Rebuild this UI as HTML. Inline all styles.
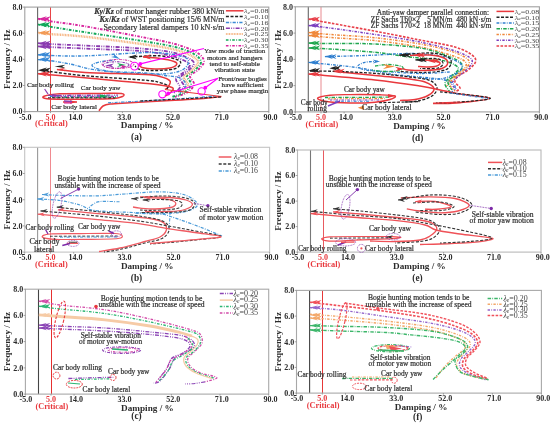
<!DOCTYPE html>
<html><head><meta charset="utf-8"><style>
html,body{margin:0;padding:0;background:#fff;}
svg{display:block;font-family:"Liberation Serif", "Times New Roman", serif;filter:blur(0.3px);}
</style></head><body>
<svg width="550" height="425" viewBox="0 0 550 425">
<rect width="550" height="425" fill="#fff"/>
<line x1="37.6" y1="7.1" x2="37.6" y2="111.6" stroke="#666" stroke-width="1.1"/>
<line x1="50.5" y1="7.1" x2="50.5" y2="111.6" stroke="#e84545" stroke-width="1"/>
<rect x="24.8" y="7.1" width="244.0" height="104.5" fill="none" stroke="#a0a0a0" stroke-width="1.1"/>
<line x1="24.8" y1="111.6" x2="24.8" y2="113.1" stroke="#8c8c8c" stroke-width="0.8"/>
<text x="25.3" y="119.7" text-anchor="middle" font-weight="bold" font-size="8" fill="#2b2b2b">-5.0</text>
<line x1="50.5" y1="111.6" x2="50.5" y2="113.1" stroke="#8c8c8c" stroke-width="0.8"/>
<text x="50.4" y="119.7" text-anchor="middle" font-weight="bold" font-size="8" fill="#e8383d">5.0</text>
<line x1="73.6" y1="111.6" x2="73.6" y2="113.1" stroke="#8c8c8c" stroke-width="0.8"/>
<text x="75.4" y="119.7" text-anchor="middle" font-weight="bold" font-size="8" fill="#2b2b2b">14.0</text>
<line x1="122.4" y1="111.6" x2="122.4" y2="113.1" stroke="#8c8c8c" stroke-width="0.8"/>
<text x="124.2" y="119.7" text-anchor="middle" font-weight="bold" font-size="8" fill="#2b2b2b">33.0</text>
<line x1="171.2" y1="111.6" x2="171.2" y2="113.1" stroke="#8c8c8c" stroke-width="0.8"/>
<text x="173.0" y="119.7" text-anchor="middle" font-weight="bold" font-size="8" fill="#2b2b2b">52.0</text>
<line x1="220.0" y1="111.6" x2="220.0" y2="113.1" stroke="#8c8c8c" stroke-width="0.8"/>
<text x="221.8" y="119.7" text-anchor="middle" font-weight="bold" font-size="8" fill="#2b2b2b">71.0</text>
<line x1="268.8" y1="111.6" x2="268.8" y2="113.1" stroke="#8c8c8c" stroke-width="0.8"/>
<text x="270.6" y="119.7" text-anchor="middle" font-weight="bold" font-size="8" fill="#2b2b2b">90.0</text>
<text x="51.3" y="126.4" text-anchor="middle" font-weight="bold" font-size="8.3" fill="#e8383d">(Critical)</text>
<line x1="23.0" y1="111.6" x2="24.8" y2="111.6" stroke="#8c8c8c" stroke-width="0.8"/>
<text x="22.6" y="114.4" text-anchor="end" font-weight="bold" font-size="8" fill="#2b2b2b">0.0</text>
<line x1="23.0" y1="85.5" x2="24.8" y2="85.5" stroke="#8c8c8c" stroke-width="0.8"/>
<text x="22.6" y="88.3" text-anchor="end" font-weight="bold" font-size="8" fill="#2b2b2b">2.0</text>
<line x1="23.0" y1="59.3" x2="24.8" y2="59.3" stroke="#8c8c8c" stroke-width="0.8"/>
<text x="22.6" y="62.1" text-anchor="end" font-weight="bold" font-size="8" fill="#2b2b2b">4.0</text>
<line x1="23.0" y1="33.2" x2="24.8" y2="33.2" stroke="#8c8c8c" stroke-width="0.8"/>
<text x="22.6" y="36.0" text-anchor="end" font-weight="bold" font-size="8" fill="#2b2b2b">6.0</text>
<line x1="23.0" y1="7.1" x2="24.8" y2="7.1" stroke="#8c8c8c" stroke-width="0.8"/>
<text x="22.6" y="9.9" text-anchor="end" font-weight="bold" font-size="8" fill="#2b2b2b">8.0</text>
<text x="147.1" y="128.2" text-anchor="middle" font-weight="bold" font-size="9.2" fill="#2b2b2b">Damping / %</text>
<text transform="translate(9.8,59.3) rotate(-90)" text-anchor="middle" font-weight="bold" font-size="9.1" fill="#2b2b2b">Frequency / Hz</text>
<text x="136.5" y="140.0" text-anchor="middle" font-size="9.3" font-weight="bold" fill="#2b2b2b">(a)</text>
<line x1="37.6" y1="147.3" x2="37.6" y2="252.1" stroke="#999" stroke-width="1.1"/>
<line x1="50.5" y1="147.3" x2="50.5" y2="252.1" stroke="#f08a90" stroke-width="1"/>
<rect x="24.7" y="147.3" width="244.9" height="104.8" fill="none" stroke="#c4c4c4" stroke-width="1.1"/>
<line x1="24.7" y1="252.1" x2="24.7" y2="253.6" stroke="#8c8c8c" stroke-width="0.8"/>
<text x="25.2" y="260.2" text-anchor="middle" font-weight="bold" font-size="8" fill="#2b2b2b">-5.0</text>
<line x1="50.5" y1="252.1" x2="50.5" y2="253.6" stroke="#8c8c8c" stroke-width="0.8"/>
<text x="50.4" y="260.2" text-anchor="middle" font-weight="bold" font-size="8" fill="#e8383d">5.0</text>
<line x1="73.7" y1="252.1" x2="73.7" y2="253.6" stroke="#8c8c8c" stroke-width="0.8"/>
<text x="75.5" y="260.2" text-anchor="middle" font-weight="bold" font-size="8" fill="#2b2b2b">14.0</text>
<line x1="122.7" y1="252.1" x2="122.7" y2="253.6" stroke="#8c8c8c" stroke-width="0.8"/>
<text x="124.5" y="260.2" text-anchor="middle" font-weight="bold" font-size="8" fill="#2b2b2b">33.0</text>
<line x1="171.6" y1="252.1" x2="171.6" y2="253.6" stroke="#8c8c8c" stroke-width="0.8"/>
<text x="173.4" y="260.2" text-anchor="middle" font-weight="bold" font-size="8" fill="#2b2b2b">52.0</text>
<line x1="220.6" y1="252.1" x2="220.6" y2="253.6" stroke="#8c8c8c" stroke-width="0.8"/>
<text x="222.4" y="260.2" text-anchor="middle" font-weight="bold" font-size="8" fill="#2b2b2b">71.0</text>
<line x1="269.6" y1="252.1" x2="269.6" y2="253.6" stroke="#8c8c8c" stroke-width="0.8"/>
<text x="271.4" y="260.2" text-anchor="middle" font-weight="bold" font-size="8" fill="#2b2b2b">90.0</text>
<text x="51.3" y="266.9" text-anchor="middle" font-weight="bold" font-size="8.3" fill="#e8383d">(Critical)</text>
<line x1="22.9" y1="252.1" x2="24.7" y2="252.1" stroke="#8c8c8c" stroke-width="0.8"/>
<text x="22.5" y="254.9" text-anchor="end" font-weight="bold" font-size="8" fill="#2b2b2b">0.0</text>
<line x1="22.9" y1="225.9" x2="24.7" y2="225.9" stroke="#8c8c8c" stroke-width="0.8"/>
<text x="22.5" y="228.7" text-anchor="end" font-weight="bold" font-size="8" fill="#2b2b2b">2.0</text>
<line x1="22.9" y1="199.7" x2="24.7" y2="199.7" stroke="#8c8c8c" stroke-width="0.8"/>
<text x="22.5" y="202.5" text-anchor="end" font-weight="bold" font-size="8" fill="#2b2b2b">4.0</text>
<line x1="22.9" y1="173.5" x2="24.7" y2="173.5" stroke="#8c8c8c" stroke-width="0.8"/>
<text x="22.5" y="176.3" text-anchor="end" font-weight="bold" font-size="8" fill="#2b2b2b">6.0</text>
<line x1="22.9" y1="147.3" x2="24.7" y2="147.3" stroke="#8c8c8c" stroke-width="0.8"/>
<text x="22.5" y="150.1" text-anchor="end" font-weight="bold" font-size="8" fill="#2b2b2b">8.0</text>
<text x="147.2" y="268.7" text-anchor="middle" font-weight="bold" font-size="9.2" fill="#2b2b2b">Damping / %</text>
<text transform="translate(9.8,199.7) rotate(-90)" text-anchor="middle" font-weight="bold" font-size="9.1" fill="#2b2b2b">Frequency / Hz</text>
<text x="136.5" y="280.6" text-anchor="middle" font-size="9.3" font-weight="bold" fill="#2b2b2b">(b)</text>
<line x1="38.5" y1="289.2" x2="38.5" y2="394.1" stroke="#444" stroke-width="1.1"/>
<line x1="51.5" y1="289.2" x2="51.5" y2="394.1" stroke="#e63030" stroke-width="1"/>
<rect x="25.4" y="289.2" width="243.3" height="104.9" fill="none" stroke="#a8a8a8" stroke-width="1.1"/>
<line x1="25.4" y1="394.1" x2="25.4" y2="395.6" stroke="#8c8c8c" stroke-width="0.8"/>
<text x="25.9" y="402.2" text-anchor="middle" font-weight="bold" font-size="8" fill="#2b2b2b">-5.0</text>
<line x1="51.0" y1="394.1" x2="51.0" y2="395.6" stroke="#8c8c8c" stroke-width="0.8"/>
<text x="50.9" y="402.2" text-anchor="middle" font-weight="bold" font-size="8" fill="#e8383d">5.0</text>
<line x1="74.1" y1="394.1" x2="74.1" y2="395.6" stroke="#8c8c8c" stroke-width="0.8"/>
<text x="75.9" y="402.2" text-anchor="middle" font-weight="bold" font-size="8" fill="#2b2b2b">14.0</text>
<line x1="122.7" y1="394.1" x2="122.7" y2="395.6" stroke="#8c8c8c" stroke-width="0.8"/>
<text x="124.5" y="402.2" text-anchor="middle" font-weight="bold" font-size="8" fill="#2b2b2b">33.0</text>
<line x1="171.4" y1="394.1" x2="171.4" y2="395.6" stroke="#8c8c8c" stroke-width="0.8"/>
<text x="173.2" y="402.2" text-anchor="middle" font-weight="bold" font-size="8" fill="#2b2b2b">52.0</text>
<line x1="220.0" y1="394.1" x2="220.0" y2="395.6" stroke="#8c8c8c" stroke-width="0.8"/>
<text x="221.8" y="402.2" text-anchor="middle" font-weight="bold" font-size="8" fill="#2b2b2b">71.0</text>
<line x1="268.7" y1="394.1" x2="268.7" y2="395.6" stroke="#8c8c8c" stroke-width="0.8"/>
<text x="270.5" y="402.2" text-anchor="middle" font-weight="bold" font-size="8" fill="#2b2b2b">90.0</text>
<text x="51.8" y="408.9" text-anchor="middle" font-weight="bold" font-size="8.3" fill="#e8383d">(Critical)</text>
<line x1="23.6" y1="394.1" x2="25.4" y2="394.1" stroke="#8c8c8c" stroke-width="0.8"/>
<text x="23.2" y="396.9" text-anchor="end" font-weight="bold" font-size="8" fill="#2b2b2b">0.0</text>
<line x1="23.6" y1="367.9" x2="25.4" y2="367.9" stroke="#8c8c8c" stroke-width="0.8"/>
<text x="23.2" y="370.7" text-anchor="end" font-weight="bold" font-size="8" fill="#2b2b2b">2.0</text>
<line x1="23.6" y1="341.6" x2="25.4" y2="341.6" stroke="#8c8c8c" stroke-width="0.8"/>
<text x="23.2" y="344.4" text-anchor="end" font-weight="bold" font-size="8" fill="#2b2b2b">4.0</text>
<line x1="23.6" y1="315.4" x2="25.4" y2="315.4" stroke="#8c8c8c" stroke-width="0.8"/>
<text x="23.2" y="318.2" text-anchor="end" font-weight="bold" font-size="8" fill="#2b2b2b">6.0</text>
<line x1="23.6" y1="289.2" x2="25.4" y2="289.2" stroke="#8c8c8c" stroke-width="0.8"/>
<text x="23.2" y="292.0" text-anchor="end" font-weight="bold" font-size="8" fill="#2b2b2b">8.0</text>
<text x="147.4" y="410.7" text-anchor="middle" font-weight="bold" font-size="9.2" fill="#2b2b2b">Damping / %</text>
<text transform="translate(9.8,341.6) rotate(-90)" text-anchor="middle" font-weight="bold" font-size="9.1" fill="#2b2b2b">Frequency / Hz</text>
<text x="136.5" y="419.3" text-anchor="middle" font-size="9.3" font-weight="bold" fill="#2b2b2b">(c)</text>
<line x1="308.3" y1="6.8" x2="308.3" y2="111.9" stroke="#666" stroke-width="1.1"/>
<line x1="321.0" y1="6.8" x2="321.0" y2="111.9" stroke="#e88a90" stroke-width="1"/>
<rect x="295.3" y="6.8" width="244.1" height="105.1" fill="none" stroke="#a0a0a0" stroke-width="1.1"/>
<line x1="295.3" y1="111.9" x2="295.3" y2="113.4" stroke="#8c8c8c" stroke-width="0.8"/>
<text x="295.8" y="120.0" text-anchor="middle" font-weight="bold" font-size="8" fill="#2b2b2b">-5.0</text>
<line x1="321.0" y1="111.9" x2="321.0" y2="113.4" stroke="#8c8c8c" stroke-width="0.8"/>
<text x="320.9" y="120.0" text-anchor="middle" font-weight="bold" font-size="8" fill="#e8383d">5.0</text>
<line x1="344.1" y1="111.9" x2="344.1" y2="113.4" stroke="#8c8c8c" stroke-width="0.8"/>
<text x="345.9" y="120.0" text-anchor="middle" font-weight="bold" font-size="8" fill="#2b2b2b">14.0</text>
<line x1="392.9" y1="111.9" x2="392.9" y2="113.4" stroke="#8c8c8c" stroke-width="0.8"/>
<text x="394.7" y="120.0" text-anchor="middle" font-weight="bold" font-size="8" fill="#2b2b2b">33.0</text>
<line x1="441.8" y1="111.9" x2="441.8" y2="113.4" stroke="#8c8c8c" stroke-width="0.8"/>
<text x="443.6" y="120.0" text-anchor="middle" font-weight="bold" font-size="8" fill="#2b2b2b">52.0</text>
<line x1="490.6" y1="111.9" x2="490.6" y2="113.4" stroke="#8c8c8c" stroke-width="0.8"/>
<text x="492.4" y="120.0" text-anchor="middle" font-weight="bold" font-size="8" fill="#2b2b2b">71.0</text>
<line x1="539.4" y1="111.9" x2="539.4" y2="113.4" stroke="#8c8c8c" stroke-width="0.8"/>
<text x="541.2" y="120.0" text-anchor="middle" font-weight="bold" font-size="8" fill="#2b2b2b">90.0</text>
<text x="321.8" y="126.7" text-anchor="middle" font-weight="bold" font-size="8.3" fill="#e8383d">(Critical)</text>
<line x1="293.5" y1="111.9" x2="295.3" y2="111.9" stroke="#8c8c8c" stroke-width="0.8"/>
<text x="293.1" y="114.7" text-anchor="end" font-weight="bold" font-size="8" fill="#2b2b2b">0.0</text>
<line x1="293.5" y1="85.6" x2="295.3" y2="85.6" stroke="#8c8c8c" stroke-width="0.8"/>
<text x="293.1" y="88.4" text-anchor="end" font-weight="bold" font-size="8" fill="#2b2b2b">2.0</text>
<line x1="293.5" y1="59.4" x2="295.3" y2="59.4" stroke="#8c8c8c" stroke-width="0.8"/>
<text x="293.1" y="62.1" text-anchor="end" font-weight="bold" font-size="8" fill="#2b2b2b">4.0</text>
<line x1="293.5" y1="33.1" x2="295.3" y2="33.1" stroke="#8c8c8c" stroke-width="0.8"/>
<text x="293.1" y="35.9" text-anchor="end" font-weight="bold" font-size="8" fill="#2b2b2b">6.0</text>
<line x1="293.5" y1="6.8" x2="295.3" y2="6.8" stroke="#8c8c8c" stroke-width="0.8"/>
<text x="293.1" y="9.6" text-anchor="end" font-weight="bold" font-size="8" fill="#2b2b2b">8.0</text>
<text x="419.5" y="128.5" text-anchor="middle" font-weight="bold" font-size="9.2" fill="#2b2b2b">Damping / %</text>
<text transform="translate(281.2,59.4) rotate(-90)" text-anchor="middle" font-weight="bold" font-size="9.1" fill="#2b2b2b">Frequency / Hz</text>
<text x="417.7" y="140.7" text-anchor="middle" font-size="9.3" font-weight="bold" fill="#2b2b2b">(d)</text>
<line x1="310.5" y1="150.0" x2="310.5" y2="252.1" stroke="#777" stroke-width="1.1"/>
<line x1="323.5" y1="150.0" x2="323.5" y2="252.1" stroke="#e85a60" stroke-width="1"/>
<rect x="297.5" y="150.0" width="243.5" height="102.1" fill="none" stroke="#b8b8b8" stroke-width="1.1"/>
<line x1="297.5" y1="252.1" x2="297.5" y2="253.6" stroke="#8c8c8c" stroke-width="0.8"/>
<text x="298.0" y="260.2" text-anchor="middle" font-weight="bold" font-size="8" fill="#2b2b2b">-5.0</text>
<line x1="323.1" y1="252.1" x2="323.1" y2="253.6" stroke="#8c8c8c" stroke-width="0.8"/>
<text x="323.0" y="260.2" text-anchor="middle" font-weight="bold" font-size="8" fill="#e8383d">5.0</text>
<line x1="346.2" y1="252.1" x2="346.2" y2="253.6" stroke="#8c8c8c" stroke-width="0.8"/>
<text x="348.0" y="260.2" text-anchor="middle" font-weight="bold" font-size="8" fill="#2b2b2b">14.0</text>
<line x1="394.9" y1="252.1" x2="394.9" y2="253.6" stroke="#8c8c8c" stroke-width="0.8"/>
<text x="396.7" y="260.2" text-anchor="middle" font-weight="bold" font-size="8" fill="#2b2b2b">33.0</text>
<line x1="443.6" y1="252.1" x2="443.6" y2="253.6" stroke="#8c8c8c" stroke-width="0.8"/>
<text x="445.4" y="260.2" text-anchor="middle" font-weight="bold" font-size="8" fill="#2b2b2b">52.0</text>
<line x1="492.3" y1="252.1" x2="492.3" y2="253.6" stroke="#8c8c8c" stroke-width="0.8"/>
<text x="494.1" y="260.2" text-anchor="middle" font-weight="bold" font-size="8" fill="#2b2b2b">71.0</text>
<line x1="541.0" y1="252.1" x2="541.0" y2="253.6" stroke="#8c8c8c" stroke-width="0.8"/>
<text x="542.8" y="260.2" text-anchor="middle" font-weight="bold" font-size="8" fill="#2b2b2b">90.0</text>
<text x="323.9" y="266.9" text-anchor="middle" font-weight="bold" font-size="8.3" fill="#e8383d">(Critical)</text>
<line x1="295.7" y1="252.1" x2="297.5" y2="252.1" stroke="#8c8c8c" stroke-width="0.8"/>
<text x="295.3" y="254.9" text-anchor="end" font-weight="bold" font-size="8" fill="#2b2b2b">0.0</text>
<line x1="295.7" y1="226.6" x2="297.5" y2="226.6" stroke="#8c8c8c" stroke-width="0.8"/>
<text x="295.3" y="229.4" text-anchor="end" font-weight="bold" font-size="8" fill="#2b2b2b">2.0</text>
<line x1="295.7" y1="201.1" x2="297.5" y2="201.1" stroke="#8c8c8c" stroke-width="0.8"/>
<text x="295.3" y="203.9" text-anchor="end" font-weight="bold" font-size="8" fill="#2b2b2b">4.0</text>
<line x1="295.7" y1="175.5" x2="297.5" y2="175.5" stroke="#8c8c8c" stroke-width="0.8"/>
<text x="295.3" y="178.3" text-anchor="end" font-weight="bold" font-size="8" fill="#2b2b2b">6.0</text>
<line x1="295.7" y1="150.0" x2="297.5" y2="150.0" stroke="#8c8c8c" stroke-width="0.8"/>
<text x="295.3" y="152.8" text-anchor="end" font-weight="bold" font-size="8" fill="#2b2b2b">8.0</text>
<text x="419.4" y="268.7" text-anchor="middle" font-weight="bold" font-size="9.2" fill="#2b2b2b">Damping / %</text>
<text transform="translate(281.2,201.1) rotate(-90)" text-anchor="middle" font-weight="bold" font-size="9.1" fill="#2b2b2b">Frequency / Hz</text>
<text x="417.5" y="280.5" text-anchor="middle" font-size="9.3" font-weight="bold" fill="#2b2b2b">(e)</text>
<line x1="309.6" y1="290.4" x2="309.6" y2="393.1" stroke="#444" stroke-width="1.1"/>
<line x1="322.5" y1="290.4" x2="322.5" y2="393.1" stroke="#e63838" stroke-width="1"/>
<rect x="296.5" y="290.4" width="244.9" height="102.7" fill="none" stroke="#a8a8a8" stroke-width="1.1"/>
<line x1="296.5" y1="393.1" x2="296.5" y2="394.6" stroke="#8c8c8c" stroke-width="0.8"/>
<text x="297.0" y="401.2" text-anchor="middle" font-weight="bold" font-size="8" fill="#2b2b2b">-5.0</text>
<line x1="322.3" y1="393.1" x2="322.3" y2="394.6" stroke="#8c8c8c" stroke-width="0.8"/>
<text x="322.2" y="401.2" text-anchor="middle" font-weight="bold" font-size="8" fill="#e8383d">5.0</text>
<line x1="345.5" y1="393.1" x2="345.5" y2="394.6" stroke="#8c8c8c" stroke-width="0.8"/>
<text x="347.3" y="401.2" text-anchor="middle" font-weight="bold" font-size="8" fill="#2b2b2b">14.0</text>
<line x1="394.5" y1="393.1" x2="394.5" y2="394.6" stroke="#8c8c8c" stroke-width="0.8"/>
<text x="396.3" y="401.2" text-anchor="middle" font-weight="bold" font-size="8" fill="#2b2b2b">33.0</text>
<line x1="443.4" y1="393.1" x2="443.4" y2="394.6" stroke="#8c8c8c" stroke-width="0.8"/>
<text x="445.2" y="401.2" text-anchor="middle" font-weight="bold" font-size="8" fill="#2b2b2b">52.0</text>
<line x1="492.4" y1="393.1" x2="492.4" y2="394.6" stroke="#8c8c8c" stroke-width="0.8"/>
<text x="494.2" y="401.2" text-anchor="middle" font-weight="bold" font-size="8" fill="#2b2b2b">71.0</text>
<line x1="541.4" y1="393.1" x2="541.4" y2="394.6" stroke="#8c8c8c" stroke-width="0.8"/>
<text x="543.2" y="401.2" text-anchor="middle" font-weight="bold" font-size="8" fill="#2b2b2b">90.0</text>
<text x="323.1" y="407.9" text-anchor="middle" font-weight="bold" font-size="8.3" fill="#e8383d">(Critical)</text>
<line x1="294.7" y1="393.1" x2="296.5" y2="393.1" stroke="#8c8c8c" stroke-width="0.8"/>
<text x="294.3" y="395.9" text-anchor="end" font-weight="bold" font-size="8" fill="#2b2b2b">0.0</text>
<line x1="294.7" y1="367.4" x2="296.5" y2="367.4" stroke="#8c8c8c" stroke-width="0.8"/>
<text x="294.3" y="370.2" text-anchor="end" font-weight="bold" font-size="8" fill="#2b2b2b">2.0</text>
<line x1="294.7" y1="341.8" x2="296.5" y2="341.8" stroke="#8c8c8c" stroke-width="0.8"/>
<text x="294.3" y="344.6" text-anchor="end" font-weight="bold" font-size="8" fill="#2b2b2b">4.0</text>
<line x1="294.7" y1="316.1" x2="296.5" y2="316.1" stroke="#8c8c8c" stroke-width="0.8"/>
<text x="294.3" y="318.9" text-anchor="end" font-weight="bold" font-size="8" fill="#2b2b2b">6.0</text>
<line x1="294.7" y1="290.4" x2="296.5" y2="290.4" stroke="#8c8c8c" stroke-width="0.8"/>
<text x="294.3" y="293.2" text-anchor="end" font-weight="bold" font-size="8" fill="#2b2b2b">8.0</text>
<text x="421.1" y="409.7" text-anchor="middle" font-weight="bold" font-size="9.2" fill="#2b2b2b">Damping / %</text>
<text transform="translate(281.2,341.8) rotate(-90)" text-anchor="middle" font-weight="bold" font-size="9.1" fill="#2b2b2b">Frequency / Hz</text>
<text x="417.7" y="419.8" text-anchor="middle" font-size="9.3" font-weight="bold" fill="#2b2b2b">(f)</text>
<path d="M38.0,18.6 C39.8,19.0 41.2,19.7 49.0,21.0 C56.8,22.3 69.8,23.7 85.0,26.3 C100.2,28.9 125.0,33.8 140.0,36.7 C155.0,39.7 165.7,41.5 175.0,44.0 C184.3,46.5 191.2,49.2 196.0,52.0 C200.8,54.8 203.7,58.0 204.0,61.0 C204.3,64.0 200.3,67.5 198.0,70.0 C195.7,72.5 190.7,73.7 190.0,76.0 C189.3,78.3 194.3,81.3 194.0,84.0 C193.7,86.7 191.2,89.8 188.0,92.0 C184.8,94.2 177.2,96.2 175.0,97.0" fill="none" stroke="#d8259e" stroke-width="1.9" stroke-dasharray="2.6 1.4 0.9 1.4"/>
<path d="M38.0,24.4 C39.8,24.8 41.2,25.2 49.0,26.5 C56.8,27.8 69.8,29.9 85.0,32.2 C100.2,34.6 125.0,38.1 140.0,40.6 C155.0,43.1 166.0,44.8 175.0,47.0 C184.0,49.2 189.7,51.5 194.0,54.0 C198.3,56.5 200.8,59.3 201.0,62.0 C201.2,64.7 197.3,67.7 195.0,70.0 C192.7,72.3 187.7,73.7 187.0,76.0 C186.3,78.3 191.3,81.3 191.0,84.0 C190.7,86.7 188.2,89.8 185.0,92.0 C181.8,94.2 174.2,96.2 172.0,97.0" fill="none" stroke="#13a85a" stroke-width="1.9" stroke-dasharray="2.6 1.4 0.9 1.4"/>
<path d="M38.0,32.8 C39.8,33.0 41.2,33.4 49.0,34.0 C56.8,34.6 69.8,35.1 85.0,36.7 C100.2,38.3 125.5,41.8 140.0,43.8 C154.5,45.8 163.7,47.1 172.0,49.0 C180.3,50.9 185.7,52.8 190.0,55.0 C194.3,57.2 197.7,59.5 198.0,62.0 C198.3,64.5 194.3,67.5 192.0,70.0 C189.7,72.5 184.7,74.5 184.0,77.0 C183.3,79.5 188.3,82.5 188.0,85.0 C187.7,87.5 183.0,90.8 182.0,92.0" fill="none" stroke="#f5b07a" stroke-width="2.4" stroke-dasharray="0.9 0.7"/>
<path d="M38.0,43.2 C39.8,43.3 41.2,43.6 49.0,44.0 C56.8,44.4 69.8,44.9 85.0,45.6 C100.2,46.3 125.8,47.3 140.0,48.4 C154.2,49.5 162.3,50.6 170.0,52.0 C177.7,53.4 182.0,55.2 186.0,57.0 C190.0,58.8 193.7,60.7 194.0,63.0 C194.3,65.3 190.3,68.5 188.0,71.0 C185.7,73.5 180.7,75.5 180.0,78.0 C179.3,80.5 184.3,83.7 184.0,86.0 C183.7,88.3 179.0,91.0 178.0,92.0" fill="none" stroke="#8a3ab0" stroke-width="1.8" stroke-dasharray="4 1.3 0.9 1.3 0.9 1.3"/>
<path d="M38.0,46.4 C39.8,46.5 41.2,46.6 49.0,47.0 C56.8,47.4 69.8,47.9 85.0,48.6 C100.2,49.3 126.2,49.9 140.0,51.0 C153.8,52.1 160.8,53.5 168.0,55.0 C175.2,56.5 179.3,58.3 183.0,60.0 C186.7,61.7 189.8,63.0 190.0,65.0 C190.2,67.0 186.3,69.7 184.0,72.0 C181.7,74.3 176.7,76.5 176.0,79.0 C175.3,81.5 180.3,84.7 180.0,87.0 C179.7,89.3 175.0,92.0 174.0,93.0" fill="none" stroke="#8a3ab0" stroke-width="1.8" stroke-dasharray="4 1.3 0.9 1.3 0.9 1.3"/>
<path d="M38.0,54.8 C39.8,54.9 41.2,55.3 49.0,55.5 C56.8,55.7 69.0,56.4 85.0,55.9 C101.0,55.4 130.8,52.9 145.0,52.6 C159.2,52.3 163.2,53.1 170.0,54.0 C176.8,54.9 183.0,56.3 186.0,58.0 C189.0,59.7 189.0,61.8 188.0,64.0 C187.0,66.2 184.7,69.3 180.0,71.0 C175.3,72.7 170.0,73.8 160.0,74.0 C150.0,74.2 130.0,73.2 120.0,72.5 C110.0,71.8 104.7,70.7 100.0,69.5 C95.3,68.3 92.0,66.5 92.0,65.2 C92.0,63.9 96.2,62.8 100.0,61.9 C103.8,61.0 112.5,60.3 115.0,60.0" fill="none" stroke="#3a8ad6" stroke-width="1.4" stroke-dasharray="3.2 1.3 0.9 1.3"/>
<path d="M38.0,59.6 C39.8,59.8 43.7,59.8 49.0,60.5 C54.3,61.2 63.2,62.6 70.0,64.0 C76.8,65.4 83.3,67.8 90.0,69.0 C96.7,70.2 100.8,70.8 110.0,71.5 C119.2,72.2 135.8,72.3 145.0,73.0 C154.2,73.7 159.2,74.7 165.0,75.5 C170.8,76.3 176.5,76.4 180.0,78.0 C183.5,79.6 186.0,82.5 186.0,85.0 C186.0,87.5 181.0,91.7 180.0,93.0" fill="none" stroke="#3a8ad6" stroke-width="1.4" stroke-dasharray="3.2 1.3 0.9 1.3"/>
<path d="M143.0,57.0 C145.8,57.2 154.8,57.8 160.0,58.5 C165.2,59.2 171.2,60.5 174.0,61.5 C176.8,62.5 177.3,63.5 176.6,64.6 C175.9,65.7 173.6,67.3 170.0,68.0 C166.4,68.7 159.7,69.1 155.0,69.0 C150.3,68.9 144.7,68.3 142.0,67.5 C139.3,66.7 139.3,64.6 138.8,64.0" fill="none" stroke="#e8383d" stroke-width="1.5"/>
<path d="M130.0,57.0 C135.0,56.8 152.0,55.3 160.0,55.8 C168.0,56.3 174.6,58.6 178.0,60.0 C181.4,61.4 181.0,62.5 180.3,64.0 C179.6,65.5 178.2,67.9 174.0,69.0 C169.8,70.1 160.7,70.4 155.0,70.5 C149.3,70.6 143.3,70.2 140.0,69.5 C136.7,68.8 135.8,66.6 135.0,66.0" fill="none" stroke="#222" stroke-width="1.4" stroke-dasharray="3 1.6"/>
<path d="M57.0,69.5 C61.7,70.0 70.3,71.7 85.0,72.5 C99.7,73.3 132.5,73.8 145.0,74.5 C157.5,75.2 155.8,75.4 160.0,76.5 C164.2,77.6 168.7,79.2 170.0,81.0 C171.3,82.8 168.8,85.6 168.0,87.0 C167.2,88.4 165.5,89.1 165.0,89.5" fill="none" stroke="#e8383d" stroke-width="1.5"/>
<path d="M165.0,89.5 C174.4,90.7 211.9,95.3 221.3,96.5" fill="none" stroke="#e8383d" stroke-width="1.2"/>
<path d="M221.3,96.5 C217.8,96.9 208.6,98.1 200.0,98.8 C191.4,99.5 181.7,99.9 170.0,100.6 C158.3,101.2 140.0,102.1 130.0,102.7 C120.0,103.3 114.5,103.5 110.0,104.0 C105.5,104.5 104.8,104.9 103.0,106.0 C101.2,107.1 99.6,110.0 98.9,110.8" fill="none" stroke="#e8383d" stroke-width="1.5"/>
<path d="M108.0,102.8 C115.0,102.4 132.2,101.7 150.0,100.6 C167.8,99.5 204.2,96.9 215.0,96.2" fill="none" stroke="#3a8ad6" stroke-width="1.1" stroke-dasharray="3.2 1.3 0.9 1.3"/>
<path d="M50.0,71.5 C55.8,72.2 69.2,74.3 85.0,75.8 C100.8,77.2 132.5,79.1 145.0,80.2 C157.5,81.3 156.2,81.6 160.0,82.6 C163.8,83.6 167.0,84.8 168.0,86.0 C169.0,87.2 166.3,89.3 166.0,90.0" fill="none" stroke="#222" stroke-width="1.4" stroke-dasharray="3 1.6"/>
<path d="M38.0,73.8 C46.7,74.5 71.3,76.5 90.0,78.2 C108.7,79.9 136.3,82.2 150.0,83.8 C163.7,85.3 168.7,86.0 172.0,87.5 C175.3,89.0 171.2,91.6 170.0,93.0 C168.8,94.4 165.8,95.5 165.0,96.0" fill="none" stroke="#e8383d" stroke-width="1.5"/>
<path d="M140.0,101.0 C153.5,100.3 207.5,97.7 221.0,97.0" fill="none" stroke="#222" stroke-width="1.1" stroke-dasharray="3 1.6"/>
<polygon points="37.8,18.9 46.8,16.3 44.1,18.9 46.8,21.5" fill="#d8259e"/>
<polygon points="41.8,18.9 50.8,16.3 48.1,18.9 50.8,21.5" fill="#d8259e"/>
<polygon points="37.8,24.6 46.8,22.0 44.1,24.6 46.8,27.2" fill="#13a85a"/>
<polygon points="41.8,24.6 50.8,22.0 48.1,24.6 50.8,27.2" fill="#13a85a"/>
<polygon points="37.8,32.8 46.8,30.2 44.1,32.8 46.8,35.4" fill="#f29a55"/>
<polygon points="41.8,32.8 50.8,30.2 48.1,32.8 50.8,35.4" fill="#f29a55"/>
<polygon points="37.8,43.4 46.8,40.8 44.1,43.4 46.8,46.0" fill="#8a3ab0"/>
<polygon points="41.8,43.4 50.8,40.8 48.1,43.4 50.8,46.0" fill="#8a3ab0"/>
<polygon points="37.8,46.6 46.8,44.0 44.1,46.6 46.8,49.2" fill="#8a3ab0"/>
<polygon points="41.8,46.6 50.8,44.0 48.1,46.6 50.8,49.2" fill="#8a3ab0"/>
<polygon points="37.8,54.6 46.8,52.0 44.1,54.6 46.8,57.2" fill="#3a8ad6"/>
<polygon points="41.8,54.6 50.8,52.0 48.1,54.6 50.8,57.2" fill="#3a8ad6"/>
<polygon points="37.8,59.4 46.8,56.8 44.1,59.4 46.8,62.0" fill="#3a8ad6"/>
<polygon points="41.8,59.4 50.8,56.8 48.1,59.4 50.8,62.0" fill="#3a8ad6"/>
<polygon points="37.8,70.2 46.8,67.6 44.1,70.2 46.8,72.8" fill="#222"/>
<polygon points="41.8,70.2 50.8,67.6 48.1,70.2 50.8,72.8" fill="#222"/>
<polygon points="37.8,73.8 46.8,71.2 44.1,73.8 46.8,76.4" fill="#e8383d"/>
<polygon points="41.8,73.8 50.8,71.2 48.1,73.8 50.8,76.4" fill="#e8383d"/>
<polygon points="54.5,66.5 65.5,64.7 62.2,66.5 65.5,68.3" fill="#222"/>
<polygon points="56.2,69.5 65.2,67.7 62.5,69.5 65.2,71.3" fill="#e8383d"/>
<ellipse cx="116" cy="65" rx="13" ry="3.2" fill="none" stroke="#8a3ab0" stroke-width="1.1" stroke-dasharray="2.5 1 0.8 1"/>
<ellipse cx="118" cy="64" rx="16" ry="4.5" fill="none" stroke="#d8259e" stroke-width="1" stroke-dasharray="2.5 1 0.8 1"/>
<polygon points="120.0,59.0 111.0,56.9 114.3,56.3 112.8,53.3" fill="#3a8ad6"/>
<polygon points="105.0,65.5 114.0,63.5 111.3,65.5 114.0,67.5" fill="#8a3ab0"/>
<polygon points="126.0,65.0 117.0,67.0 119.7,65.0 117.0,63.0" fill="#13a85a"/>
<polygon points="127.0,66.5 120.0,68.3 122.1,66.5 120.0,64.7" fill="#d8259e"/>
<polygon points="128.0,57.0 137.0,54.4 134.3,57.0 137.0,59.6" fill="#222"/>
<polygon points="142.0,56.8 151.0,54.2 148.3,56.8 151.0,59.4" fill="#e8383d"/>
<path d="M44.0,96.3 C46.2,95.5 50.7,94.3 60.0,93.8 C69.3,93.3 89.8,93.5 100.0,93.4 C110.2,93.4 117.8,93.0 121.5,93.5 C125.2,94.0 124.4,95.6 122.5,96.5 C120.6,97.4 118.8,98.3 110.0,98.8 C101.2,99.2 80.5,99.2 70.0,99.2 C59.5,99.2 51.3,99.3 47.0,98.8 C42.7,98.3 41.8,97.1 44.0,96.3Z" fill="none" stroke="#e8383d" stroke-width="1.5"/>
<path d="M48.0,95.3 C59.7,95.3 106.3,95.2 118.0,95.2" fill="none" stroke="#8a3ab0" stroke-width="1.3" stroke-dasharray="4 1.3 0.9 1.3 0.9 1.3"/>
<path d="M50.0,96.4 C61.3,96.4 106.7,96.3 118.0,96.3" fill="none" stroke="#3a8ad6" stroke-width="1.2" stroke-dasharray="3.2 1.3 0.9 1.3"/>
<path d="M52.0,97.4 C62.7,97.4 105.3,97.3 116.0,97.3" fill="none" stroke="#13a85a" stroke-width="1.2" stroke-dasharray="2.6 1.4 0.9 1.4"/>
<path d="M54.0,96.8 C64.0,96.8 104.0,96.8 114.0,96.8" fill="none" stroke="#d8259e" stroke-width="1.1" stroke-dasharray="2.6 1.4 0.9 1.4"/>
<path d="M48.0,97.8 C59.2,97.8 103.8,97.9 115.0,97.9" fill="none" stroke="#222" stroke-width="1.0" stroke-dasharray="3 1.6"/>
<polygon points="52,94 60,95.5 52,97" fill="#8a3ab0"/>
<polygon points="100,94.5 110,96 100,97.5" fill="#13a85a"/>
<path d="M63.0,102.0 C65.3,102.0 74.7,102.0 77.0,102.0" fill="none" stroke="#e8383d" stroke-width="1.5"/>
<polygon points="70,100.2 77,102 70,103.8" fill="#e8383d"/>
<path d="M64.0,101.0 C65.3,101.1 70.7,101.4 72.0,101.5" fill="none" stroke="#8a3ab0" stroke-width="1.3"/>
<path d="M64.0,103.0 C65.3,103.0 70.7,103.0 72.0,103.0" fill="none" stroke="#d8259e" stroke-width="1.1"/>
<line x1="204" y1="48.5" x2="140.3" y2="63.9" stroke="#ff00ff" stroke-width="1.1"/>
<circle cx="134.5" cy="66.1" r="3.9" fill="none" stroke="#ff00ff" stroke-width="1.1"/>
<circle cx="140.3" cy="63.9" r="1.9" fill="#ff00ff"/>
<polyline points="168.2,93.5 218,78.3 205.3,87.7" fill="none" stroke="#ff00ff" stroke-width="1.1"/>
<circle cx="162.4" cy="94.3" r="3.6" fill="none" stroke="#ff00ff" stroke-width="1.1"/>
<circle cx="168.2" cy="93.5" r="1.9" fill="#ff00ff"/>
<circle cx="201.6" cy="91.4" r="3.6" fill="none" stroke="#ff00ff" stroke-width="1.1"/>
<circle cx="205.3" cy="87.7" r="1.9" fill="#ff00ff"/>
<line x1="44.6" y1="89" x2="48" y2="94" stroke="#8a3ab0" stroke-width="1.2"/>
<text x="27.0" y="86.7" font-size="7.1" text-anchor="start" fill="#333" stroke="#333" stroke-width="0.22">Car body rolling</text>
<text x="80.7" y="89.6" font-size="7.1" text-anchor="start" fill="#333" stroke="#333" stroke-width="0.22">Car body yaw</text>
<text x="51.2" y="109.0" font-size="7.1" text-anchor="start" fill="#333" stroke="#333" stroke-width="0.22">Car body lateral</text>
<text x="234.7" y="53.4" font-size="7.1" text-anchor="middle" fill="#333" stroke="#333" stroke-width="0.22">Yaw mode of traction</text>
<text x="234.7" y="59.6" font-size="7.1" text-anchor="middle" fill="#333" stroke="#333" stroke-width="0.22">motors and hangers</text>
<text x="234.7" y="65.8" font-size="7.1" text-anchor="middle" fill="#333" stroke="#333" stroke-width="0.22">tend to self-stable</text>
<text x="234.7" y="72.0" font-size="7.1" text-anchor="middle" fill="#333" stroke="#333" stroke-width="0.22">vibration state</text>
<text x="242.5" y="80.6" font-size="7.1" text-anchor="middle" fill="#333" stroke="#333" stroke-width="0.22">Front/rear bogies</text>
<text x="242.5" y="86.7" font-size="7.1" text-anchor="middle" fill="#333" stroke="#333" stroke-width="0.22">have sufficient</text>
<text x="242.5" y="92.8" font-size="7.1" text-anchor="middle" fill="#333" stroke="#333" stroke-width="0.22">yaw phase margin</text>
<text x="224.4" y="13.9" font-size="8" text-anchor="end" fill="#333" stroke="#333" stroke-width="0.22"><tspan font-weight="bold" font-style="italic">Ky</tspan>/<tspan font-weight="bold" font-style="italic">Kz</tspan> of motor hanger rubber 380 kN/m</text>
<text x="224.4" y="22.0" font-size="8" text-anchor="end" fill="#333" stroke="#333" stroke-width="0.22"><tspan font-weight="bold" font-style="italic">Kx</tspan>/<tspan font-weight="bold" font-style="italic">Kz</tspan> of WST positioning 15/6 MN/m</text>
<text x="224.4" y="29.6" font-size="8" text-anchor="end" fill="#333" stroke="#333" stroke-width="0.22">Secondary lateral dampers 10 kN·s/m</text>
<line x1="225.9" y1="10.8" x2="243.5" y2="10.8" stroke="#e8383d" stroke-width="1.5"/>
<text x="244.1" y="13.1" font-size="6.8" fill="#444" textLength="24.4" lengthAdjust="spacingAndGlyphs"><tspan font-style="italic">λ</tspan><tspan font-style="italic" font-size="4.8" dy="0.8">e</tspan><tspan dy="-0.8">=0.08</tspan></text>
<line x1="225.9" y1="16.6" x2="243.5" y2="16.6" stroke="#222" stroke-width="1.5" stroke-dasharray="3 1.6"/>
<text x="244.1" y="18.9" font-size="6.8" fill="#444" textLength="24.4" lengthAdjust="spacingAndGlyphs"><tspan font-style="italic">λ</tspan><tspan font-style="italic" font-size="4.8" dy="0.8">e</tspan><tspan dy="-0.8">=0.10</tspan></text>
<line x1="225.9" y1="22.4" x2="243.5" y2="22.4" stroke="#3a8ad6" stroke-width="1.5" stroke-dasharray="3.2 1.3 0.9 1.3"/>
<text x="244.1" y="24.7" font-size="6.8" fill="#444" textLength="24.4" lengthAdjust="spacingAndGlyphs"><tspan font-style="italic">λ</tspan><tspan font-style="italic" font-size="4.8" dy="0.8">e</tspan><tspan dy="-0.8">=0.16</tspan></text>
<line x1="225.9" y1="28.3" x2="243.5" y2="28.3" stroke="#8a3ab0" stroke-width="1.5" stroke-dasharray="4 1.3 0.9 1.3 0.9 1.3"/>
<text x="244.1" y="30.6" font-size="6.8" fill="#444" textLength="24.4" lengthAdjust="spacingAndGlyphs"><tspan font-style="italic">λ</tspan><tspan font-style="italic" font-size="4.8" dy="0.8">e</tspan><tspan dy="-0.8">=0.20</tspan></text>
<line x1="225.9" y1="34.1" x2="243.5" y2="34.1" stroke="#f29a55" stroke-width="1.5" stroke-dasharray="0.9 0.7"/>
<text x="244.1" y="36.4" font-size="6.8" fill="#444" textLength="24.4" lengthAdjust="spacingAndGlyphs"><tspan font-style="italic">λ</tspan><tspan font-style="italic" font-size="4.8" dy="0.8">e</tspan><tspan dy="-0.8">=0.25</tspan></text>
<line x1="225.9" y1="39.9" x2="243.5" y2="39.9" stroke="#13a85a" stroke-width="1.5" stroke-dasharray="2.6 1.4 0.9 1.4"/>
<text x="244.1" y="42.2" font-size="6.8" fill="#444" textLength="24.4" lengthAdjust="spacingAndGlyphs"><tspan font-style="italic">λ</tspan><tspan font-style="italic" font-size="4.8" dy="0.8">e</tspan><tspan dy="-0.8">=0.30</tspan></text>
<line x1="225.9" y1="45.7" x2="243.5" y2="45.7" stroke="#d8259e" stroke-width="1.5" stroke-dasharray="2.6 1.4 0.9 1.4"/>
<text x="244.1" y="48.0" font-size="6.8" fill="#444" textLength="24.4" lengthAdjust="spacingAndGlyphs"><tspan font-style="italic">λ</tspan><tspan font-style="italic" font-size="4.8" dy="0.8">e</tspan><tspan dy="-0.8">=0.35</tspan></text>
<path d="M42.0,194.5 C45.0,194.6 51.2,195.1 60.0,195.3 C68.8,195.5 84.2,196.1 95.0,195.9 C105.8,195.7 114.2,194.7 125.0,194.0 C135.8,193.3 150.0,191.6 160.0,191.8 C170.0,192.0 178.8,192.9 185.0,195.0 C191.2,197.1 197.3,201.8 197.5,204.5 C197.7,207.2 192.2,209.9 186.0,211.5 C179.8,213.1 168.5,213.5 160.0,213.8 C151.5,214.1 139.2,213.3 135.0,213.2" fill="none" stroke="#4b9bd8" stroke-width="1.2" stroke-dasharray="3.2 1.3 0.9 1.3"/>
<path d="M37.2,198.9 C41.0,199.2 52.9,199.5 60.0,200.5 C67.1,201.5 74.2,203.3 80.0,205.0 C85.8,206.7 85.8,209.2 95.0,210.5 C104.2,211.8 124.2,212.0 135.0,212.6 C145.8,213.2 153.3,212.9 160.0,213.8 C166.7,214.7 168.3,215.8 175.0,218.0 C181.7,220.2 192.2,224.0 200.0,227.0 C207.8,230.0 218.3,234.5 222.0,236.0" fill="none" stroke="#4b9bd8" stroke-width="1.2" stroke-dasharray="3.2 1.3 0.9 1.3"/>
<path d="M119.5,201.8 C116.2,201.8 104.6,201.0 100.0,201.5 C95.4,202.0 93.8,203.8 92.0,205.0 C90.2,206.2 88.5,207.9 89.0,209.0 C89.5,210.1 94.0,211.1 95.0,211.5" fill="none" stroke="#4b9bd8" stroke-width="1.1" stroke-dasharray="3.2 1.3 0.9 1.3"/>
<path d="M169.6,205.0 C169.7,206.7 170.1,211.2 170.0,215.0 C169.9,218.8 169.2,225.8 169.0,228.0" fill="none" stroke="#4b9bd8" stroke-width="1.0" stroke-dasharray="3.2 1.3 0.9 1.3"/>
<path d="M144.0,197.5 C146.7,197.6 155.3,197.7 160.0,198.2 C164.7,198.7 169.4,199.6 172.0,200.5 C174.6,201.4 176.0,202.7 175.8,203.9 C175.6,205.1 174.5,206.7 171.0,207.5 C167.5,208.3 160.2,208.9 155.0,209.0 C149.8,209.1 143.7,208.5 140.0,208.2 C136.3,207.9 134.2,207.2 133.0,207.0" fill="none" stroke="#ef5b62" stroke-width="1.3"/>
<path d="M142.7,200.0 C145.6,199.9 154.3,199.4 160.0,199.5 C165.7,199.6 173.3,199.8 177.0,200.5 C180.7,201.2 182.2,202.7 182.2,204.0 C182.2,205.3 181.5,207.4 177.0,208.5 C172.5,209.6 161.2,210.1 155.0,210.3 C148.8,210.6 142.5,210.1 140.0,210.0" fill="none" stroke="#3a3a3a" stroke-width="1.1" stroke-dasharray="3 1.6"/>
<path d="M140.0,196.9 C145.0,197.0 162.3,197.0 170.0,197.5 C177.7,198.0 182.3,198.8 186.0,200.0 C189.7,201.2 192.6,202.9 192.4,204.5 C192.2,206.1 188.7,208.3 185.0,209.5 C181.3,210.7 176.7,211.2 170.0,211.5 C163.3,211.8 149.2,211.5 145.0,211.5" fill="none" stroke="#ef5b62" stroke-width="1.3"/>
<path d="M131.3,198.8 C136.1,198.3 151.1,196.2 160.0,196.0 C168.9,195.8 179.2,196.6 185.0,197.8 C190.8,199.1 194.5,201.4 195.0,203.5 C195.5,205.6 193.0,209.0 188.0,210.5 C183.0,212.0 173.0,212.2 165.0,212.5 C157.0,212.8 144.2,212.5 140.0,212.5" fill="none" stroke="#3a3a3a" stroke-width="1.1" stroke-dasharray="3 1.6"/>
<path d="M57.9,209.8 C64.1,210.4 82.2,212.1 95.0,213.3 C107.8,214.5 125.0,215.8 135.0,216.8 C145.0,217.8 150.2,218.5 155.0,219.5 C159.8,220.5 162.1,221.2 164.0,223.0 C165.9,224.8 167.0,228.0 166.3,230.3 C165.6,232.6 163.6,235.1 160.0,237.0 C156.4,238.9 151.7,239.7 145.0,241.5 C138.3,243.3 127.7,246.3 120.0,248.0 C112.3,249.7 102.5,250.9 99.0,251.5" fill="none" stroke="#ef5b62" stroke-width="1.3"/>
<path d="M56.8,207.1 C63.2,207.8 82.0,210.0 95.0,211.4 C108.0,212.8 124.5,214.2 135.0,215.5 C145.5,216.8 152.7,218.1 158.0,219.5 C163.3,220.9 165.2,222.1 167.0,224.0 C168.8,225.9 169.7,228.6 168.9,231.0 C168.1,233.4 166.0,236.5 162.0,238.5 C158.0,240.5 152.0,241.2 145.0,243.0 C138.0,244.8 126.8,248.0 120.0,249.5 C113.2,251.0 106.7,251.6 104.0,252.0" fill="none" stroke="#3a3a3a" stroke-width="1.1" stroke-dasharray="3 1.6"/>
<path d="M40.5,210.9 C49.6,211.7 79.2,214.2 95.0,215.8 C110.8,217.4 124.2,219.1 135.0,220.5 C145.8,221.9 150.8,222.9 160.0,224.5 C169.2,226.1 179.8,228.0 190.0,230.0 C200.2,232.0 219.3,234.7 221.0,236.3 C222.7,237.9 208.5,238.5 200.0,239.5 C191.5,240.5 178.3,241.8 170.0,242.5 C161.7,243.2 153.3,243.8 150.0,244.0" fill="none" stroke="#3a3a3a" stroke-width="1.1" stroke-dasharray="3 1.6"/>
<path d="M37.7,214.2 C47.2,215.1 78.8,217.9 95.0,219.4 C111.2,220.9 123.2,221.7 135.0,223.2 C146.8,224.7 156.0,226.8 166.0,228.3 C176.0,229.9 185.8,231.1 195.0,232.5 C204.2,233.9 220.2,235.5 221.0,236.6 C221.8,237.7 208.5,238.3 200.0,239.2 C191.5,240.1 178.3,241.1 170.0,241.8 C161.7,242.5 153.3,243.2 150.0,243.5" fill="none" stroke="#ef5b62" stroke-width="1.3"/>
<polygon points="42.1,194.5 49.1,192.5 47.0,194.5 49.1,196.5" fill="#4b9bd8"/>
<polygon points="37.2,198.9 44.2,196.9 42.1,198.9 44.2,200.9" fill="#4b9bd8"/>
<polygon points="40.5,210.9 47.5,208.9 45.4,210.9 47.5,212.9" fill="#3a3a3a"/>
<polygon points="56.8,207.1 63.8,205.1 61.7,207.1 63.8,209.1" fill="#3a3a3a"/>
<polygon points="37.7,214.2 44.7,212.2 42.6,214.2 44.7,216.2" fill="#ef5b62"/>
<polygon points="57.9,209.8 64.9,207.8 62.8,209.8 64.9,211.8" fill="#ef5b62"/>
<polygon points="131.3,198.8 138.3,196.8 136.2,198.8 138.3,200.8" fill="#3a3a3a"/>
<polygon points="142.7,200.0 149.7,198.0 147.6,200.0 149.7,202.0" fill="#3a3a3a"/>
<polygon points="144.0,197.5 151.0,195.5 148.9,197.5 151.0,199.5" fill="#ef5b62"/>
<path d="M42.3,237.0 C41.5,236.1 43.7,234.6 50.0,234.0 C56.3,233.4 69.2,233.7 80.0,233.6 C90.8,233.5 108.0,233.2 115.0,233.5 C122.0,233.8 121.5,234.7 122.0,235.5 C122.5,236.3 123.3,237.9 118.0,238.5 C112.7,239.1 100.5,239.2 90.0,239.3 C79.5,239.4 63.0,239.7 55.0,239.3 C47.0,238.9 43.1,237.9 42.3,237.0Z" fill="none" stroke="#ef5b62" stroke-width="1.2"/>
<path d="M50.0,236.3 C61.3,236.2 106.7,236.1 118.0,236.0" fill="none" stroke="#3a3a3a" stroke-width="1.0" stroke-dasharray="3 1.6"/>
<path d="M60.0,237.2 C69.7,237.2 108.3,237.0 118.0,237.0" fill="none" stroke="#4b9bd8" stroke-width="1.0" stroke-dasharray="3.2 1.3 0.9 1.3"/>
<ellipse cx="116.4" cy="233.8" rx="5" ry="3" fill="none" stroke="#7d2aa8" stroke-width="0.8" stroke-dasharray="0.8 0.8"/>
<line x1="108.6" y1="231" x2="114" y2="233.5" stroke="#7d2aa8" stroke-width="1.4"/>
<ellipse cx="73" cy="243.4" rx="6" ry="3" fill="none" stroke="#7d2aa8" stroke-width="0.8" stroke-dasharray="0.8 0.8"/>
<path d="M67.0,243.4 C68.8,243.4 76.2,243.2 78.0,243.2" fill="none" stroke="#ef5b62" stroke-width="1.4"/>
<path d="M69.0,242.2 C70.3,242.2 75.7,242.2 77.0,242.2" fill="none" stroke="#3a3a3a" stroke-width="1.0"/>
<line x1="62.3" y1="245.5" x2="70" y2="243.5" stroke="#7d2aa8" stroke-width="1.4"/>
<line x1="45.5" y1="229.5" x2="48" y2="234" stroke="#7d2aa8" stroke-width="1.3"/>
<ellipse cx="57" cy="205" rx="4" ry="13.5" transform="rotate(12 57 205)" fill="none" stroke="#7d2aa8" stroke-width="0.8" stroke-dasharray="0.8 0.8"/>
<line x1="78.6" y1="189.1" x2="60.6" y2="198.4" stroke="#7d2aa8" stroke-width="0.9"/>
<circle cx="78.6" cy="189.1" r="1.7" fill="#7d2aa8"/>
<line x1="193.6" y1="203.2" x2="207.9" y2="205.8" stroke="#7d2aa8" stroke-width="0.9" stroke-dasharray="0.8 0.8"/>
<circle cx="207.9" cy="205.8" r="1.7" fill="#7d2aa8"/>
<text x="57.5" y="180.5" font-size="7.6" text-anchor="start" fill="#333" stroke="#333" stroke-width="0.22">Bogie hunting motion tends to be</text>
<text x="54.5" y="187.6" font-size="7.6" text-anchor="start" fill="#333" stroke="#333" stroke-width="0.22">unstable with the increase of speed</text>
<text x="199.5" y="212.3" font-size="7.6" text-anchor="start" fill="#333" stroke="#333" stroke-width="0.22">Self-stable vibration</text>
<text x="199.0" y="219.9" font-size="7.6" text-anchor="start" fill="#333" stroke="#333" stroke-width="0.22">of motor yaw motion</text>
<text x="25.6" y="229.9" font-size="7.3" text-anchor="start" fill="#333" stroke="#333" stroke-width="0.22">Car body rolling</text>
<text x="77.9" y="229.4" font-size="7.6" text-anchor="start" fill="#333" stroke="#333" stroke-width="0.22">Car body yaw</text>
<text x="29.4" y="244.3" font-size="8.2" text-anchor="start" fill="#333" stroke="#333" stroke-width="0.22">Car body</text>
<text x="34.0" y="252.2" font-size="8.1" text-anchor="start" fill="#333" stroke="#333" stroke-width="0.22">lateral</text>
<line x1="218.7" y1="157.0" x2="231.4" y2="157.0" stroke="#ef5b62" stroke-width="1.5"/>
<text x="234" y="159.3" font-size="7.4" fill="#444" textLength="24.0" lengthAdjust="spacingAndGlyphs"><tspan font-style="italic">λ</tspan><tspan font-style="italic" font-size="5.2" dy="0.8">e</tspan><tspan dy="-0.8">=0.08</tspan></text>
<line x1="218.7" y1="163.9" x2="231.4" y2="163.9" stroke="#3a3a3a" stroke-width="1.5" stroke-dasharray="3 1.6"/>
<text x="234" y="166.2" font-size="7.4" fill="#444" textLength="24.0" lengthAdjust="spacingAndGlyphs"><tspan font-style="italic">λ</tspan><tspan font-style="italic" font-size="5.2" dy="0.8">e</tspan><tspan dy="-0.8">=0.10</tspan></text>
<line x1="218.7" y1="170.9" x2="231.4" y2="170.9" stroke="#4b9bd8" stroke-width="1.5" stroke-dasharray="3.2 1.3 0.9 1.3"/>
<text x="234" y="173.2" font-size="7.4" fill="#444" textLength="24.0" lengthAdjust="spacingAndGlyphs"><tspan font-style="italic">λ</tspan><tspan font-style="italic" font-size="5.2" dy="0.8">e</tspan><tspan dy="-0.8">=0.16</tspan></text>
<path d="M38.8,301.1 C42.3,301.8 49.0,303.6 60.0,305.0 C71.0,306.4 90.0,307.5 105.0,309.8 C120.0,312.1 135.8,315.7 150.0,319.0 C164.2,322.3 181.7,327.0 190.0,329.5 C198.3,332.0 198.0,331.8 200.0,334.0 C202.0,336.2 202.8,340.1 202.0,343.0 C201.2,345.9 197.3,348.8 195.0,351.3 C192.7,353.8 188.8,355.4 188.0,357.9 C187.2,360.3 188.0,363.5 190.0,366.0 C192.0,368.5 195.5,370.8 200.0,372.7 C204.5,374.6 216.0,376.2 216.8,377.7 C217.6,379.2 207.0,381.1 205.0,381.8" fill="none" stroke="#d24aa8" stroke-width="1.3" stroke-dasharray="2.6 1.4 0.9 1.4"/>
<path d="M38.8,306.2 C42.3,306.7 49.0,307.8 60.0,309.0 C71.0,310.2 90.0,311.3 105.0,313.5 C120.0,315.7 135.8,319.0 150.0,322.0 C164.2,325.0 181.8,329.2 190.0,331.5 C198.2,333.8 197.3,333.9 199.0,336.0 C200.7,338.1 201.0,341.3 200.0,344.0 C199.0,346.7 195.3,349.7 193.0,352.0 C190.7,354.3 186.8,355.7 186.0,358.0 C185.2,360.3 186.0,363.5 188.0,366.0 C190.0,368.5 193.7,371.0 198.0,373.0 C202.3,375.0 211.3,377.2 214.0,378.0" fill="none" stroke="#2bb673" stroke-width="1.3" stroke-dasharray="2.6 1.4 0.9 1.4"/>
<path d="M38.8,314.9 C42.3,315.2 49.0,315.7 60.0,316.5 C71.0,317.3 90.0,318.2 105.0,319.8 C120.0,321.4 137.5,323.9 150.0,326.0 C162.5,328.1 173.0,330.8 180.0,332.5 C187.0,334.2 190.0,335.4 192.0,336.0" fill="none" stroke="#f6cba6" stroke-width="2.8"/>
<path d="M185.0,334.5 C186.5,334.9 191.8,336.1 194.0,337.0 C196.2,337.9 197.5,338.7 198.0,340.0 C198.5,341.3 198.3,343.0 197.0,345.0 C195.7,347.0 192.2,349.8 190.0,352.0 C187.8,354.2 184.7,355.7 184.0,358.0 C183.3,360.3 184.0,363.5 186.0,366.0 C188.0,368.5 191.7,370.9 196.0,373.0 C200.3,375.1 209.3,377.6 212.0,378.5" fill="none" stroke="#f6cba6" stroke-width="1.3"/>
<path d="M38.8,325.1 C42.3,325.3 49.0,325.7 60.0,326.2 C71.0,326.7 90.0,327.0 105.0,328.0 C120.0,329.0 136.7,330.6 150.0,332.0 C163.3,333.4 177.6,334.2 185.0,336.5 C192.4,338.8 194.6,342.8 194.6,345.5 C194.6,348.2 188.3,350.9 185.0,353.0 C181.7,355.1 177.5,355.4 175.0,357.9 C172.5,360.4 172.5,363.9 170.0,367.8 C167.5,371.7 162.8,378.4 160.0,381.0 C157.2,383.6 154.6,382.8 153.5,383.2" fill="none" stroke="#8b45b5" stroke-width="1.3" stroke-dasharray="4 1.3 0.9 1.3 0.9 1.3"/>
<path d="M38.8,328.0 C42.3,328.2 49.0,328.5 60.0,329.0 C71.0,329.5 90.0,330.1 105.0,331.0 C120.0,331.9 137.2,333.2 150.0,334.5 C162.8,335.8 175.3,337.1 182.0,339.0 C188.7,340.9 190.0,343.6 190.0,346.0 C190.0,348.4 185.0,351.5 182.0,353.5 C179.0,355.5 174.5,355.6 172.0,358.0 C169.5,360.4 169.3,364.3 167.0,368.0 C164.7,371.7 159.5,378.0 158.0,380.0" fill="none" stroke="#8b45b5" stroke-width="1.3" stroke-dasharray="4 1.3 0.9 1.3 0.9 1.3"/>
<path d="M185.0,336.0 C186.2,337.7 192.5,343.0 192.0,346.0 C191.5,349.0 185.5,351.7 182.0,354.0 C178.5,356.3 173.7,357.3 171.0,360.0 C168.3,362.7 168.5,366.3 166.0,370.0 C163.5,373.7 157.7,380.0 156.0,382.0" fill="none" stroke="#d24aa8" stroke-width="1.2" stroke-dasharray="2.6 1.4 0.9 1.4"/>
<path d="M188.0,338.0 C188.8,339.5 193.8,344.2 193.0,347.0 C192.2,349.8 186.3,352.7 183.0,355.0 C179.7,357.3 175.5,358.3 173.0,361.0 C170.5,363.7 170.3,367.7 168.0,371.0 C165.7,374.3 160.5,379.3 159.0,381.0" fill="none" stroke="#2bb673" stroke-width="1.2" stroke-dasharray="2.6 1.4 0.9 1.4"/>
<path d="M205.0,381.8 C203.3,382.1 198.3,383.1 195.0,383.5 C191.7,383.9 186.7,383.9 185.0,384.0" fill="none" stroke="#8b45b5" stroke-width="1.2" stroke-dasharray="4 1.3 0.9 1.3 0.9 1.3"/>
<polygon points="38.8,301.1 46.8,298.9 44.4,301.1 46.8,303.3" fill="#d24aa8"/>
<polygon points="42.4,301.1 50.4,298.9 48.0,301.1 50.4,303.3" fill="#d24aa8"/>
<polygon points="38.8,306.2 46.8,304.0 44.4,306.2 46.8,308.4" fill="#2bb673"/>
<polygon points="42.4,306.2 50.4,304.0 48.0,306.2 50.4,308.4" fill="#2bb673"/>
<polygon points="38.8,314.9 46.8,312.7 44.4,314.9 46.8,317.1" fill="#f6cba6"/>
<polygon points="42.4,314.9 50.4,312.7 48.0,314.9 50.4,317.1" fill="#f6cba6"/>
<polygon points="38.8,325.1 46.8,322.9 44.4,325.1 46.8,327.3" fill="#8b45b5"/>
<polygon points="42.4,325.1 50.4,322.9 48.0,325.1 50.4,327.3" fill="#8b45b5"/>
<polygon points="38.8,328.0 46.8,325.8 44.4,328.0 46.8,330.2" fill="#8b45b5"/>
<polygon points="42.4,328.0 50.4,325.8 48.0,328.0 50.4,330.2" fill="#8b45b5"/>
<ellipse cx="59.8" cy="319.5" rx="4" ry="18.8" transform="rotate(13 59.8 319.5)" fill="none" stroke="#e8383d" stroke-width="1.1" stroke-dasharray="2.5 1.4"/>
<circle cx="96" cy="306.6" r="1.8" fill="#e8383d"/>
<ellipse cx="121.6" cy="350.1" rx="19" ry="3.3" fill="none" stroke="#8b45b5" stroke-width="1.2" stroke-dasharray="3 1.2 0.8 1.2"/>
<ellipse cx="123" cy="350" rx="15" ry="2.2" fill="none" stroke="#d24aa8" stroke-width="1.1" stroke-dasharray="2.5 1.2 0.8 1.2"/>
<path d="M112.0,349.0 C114.7,349.2 125.3,349.8 128.0,350.0" fill="none" stroke="#2bb673" stroke-width="1.4"/>
<circle cx="56.5" cy="375.6" r="3.4" fill="none" stroke="#e8383d" stroke-width="1" stroke-dasharray="1.8 1"/>
<path d="M68.4,378.5 C72.0,378.4 82.5,378.0 90.0,377.8 C97.5,377.6 109.4,377.4 113.3,377.3" fill="none" stroke="#8b45b5" stroke-width="1.3" stroke-dasharray="4 1.3 0.9 1.3 0.9 1.3"/>
<path d="M75.0,379.5 C80.8,379.4 104.2,378.9 110.0,378.8" fill="none" stroke="#2bb673" stroke-width="1.2" stroke-dasharray="2.6 1.4 0.9 1.4"/>
<circle cx="113" cy="377.5" r="3" fill="none" stroke="#e8383d" stroke-width="1" stroke-dasharray="1.8 1"/>
<ellipse cx="74.3" cy="384.2" rx="8" ry="3.8" fill="none" stroke="#e8383d" stroke-width="1" stroke-dasharray="1.8 1"/>
<path d="M68.0,383.0 C70.0,383.2 78.0,383.8 80.0,384.0" fill="none" stroke="#2bb673" stroke-width="1.2"/>
<text x="100.8" y="300.8" font-size="7.6" text-anchor="start" fill="#333" stroke="#333" stroke-width="0.22">Bogie hunting motion tends to be</text>
<text x="98.5" y="306.8" font-size="7.6" text-anchor="start" fill="#333" stroke="#333" stroke-width="0.22">unstable with the increase of speed</text>
<text x="80.7" y="338.2" font-size="7.4" text-anchor="start" fill="#333" stroke="#333" stroke-width="0.22">Self-stable vibration</text>
<text x="79.0" y="344.2" font-size="7.4" text-anchor="start" fill="#333" stroke="#333" stroke-width="0.22">of motor yaw-motion</text>
<text x="53.0" y="369.8" font-size="7.4" text-anchor="start" fill="#333" stroke="#333" stroke-width="0.22">Car body rolling</text>
<text x="108.0" y="373.8" font-size="7.4" text-anchor="start" fill="#333" stroke="#333" stroke-width="0.22">Car body yaw</text>
<text x="82.6" y="391.6" font-size="7.4" text-anchor="start" fill="#333" stroke="#333" stroke-width="0.22">Car body lateral</text>
<line x1="219.8" y1="293.5" x2="233" y2="293.5" stroke="#8b45b5" stroke-width="1.5" stroke-dasharray="4 1.3 0.9 1.3 0.9 1.3"/>
<text x="233.4" y="295.8" font-size="7.4" fill="#444" textLength="24.7" lengthAdjust="spacingAndGlyphs"><tspan font-style="italic">λ</tspan><tspan font-style="italic" font-size="5.2" dy="0.8">e</tspan><tspan dy="-0.8">=0.20</tspan></text>
<line x1="219.8" y1="300.1" x2="233" y2="300.1" stroke="#f6cba6" stroke-width="1.5"/>
<text x="233.4" y="302.4" font-size="7.4" fill="#444" textLength="24.7" lengthAdjust="spacingAndGlyphs"><tspan font-style="italic">λ</tspan><tspan font-style="italic" font-size="5.2" dy="0.8">e</tspan><tspan dy="-0.8">=0.25</tspan></text>
<line x1="219.8" y1="306.6" x2="233" y2="306.6" stroke="#2bb673" stroke-width="1.5" stroke-dasharray="2.6 1.4 0.9 1.4"/>
<text x="233.4" y="308.9" font-size="7.4" fill="#444" textLength="24.7" lengthAdjust="spacingAndGlyphs"><tspan font-style="italic">λ</tspan><tspan font-style="italic" font-size="5.2" dy="0.8">e</tspan><tspan dy="-0.8">=0.30</tspan></text>
<line x1="219.8" y1="313.1" x2="233" y2="313.1" stroke="#d24aa8" stroke-width="1.5" stroke-dasharray="2.6 1.4 0.9 1.4"/>
<text x="233.4" y="315.4" font-size="7.4" fill="#444" textLength="24.7" lengthAdjust="spacingAndGlyphs"><tspan font-style="italic">λ</tspan><tspan font-style="italic" font-size="5.2" dy="0.8">e</tspan><tspan dy="-0.8">=0.35</tspan></text>
<path d="M308.5,19.1 C312.1,19.8 318.9,21.0 330.0,23.0 C341.1,25.0 360.0,28.4 375.0,31.2 C390.0,34.0 406.7,37.4 420.0,40.0 C433.3,42.6 446.3,44.5 455.0,47.0 C463.7,49.5 468.6,52.5 472.0,55.0 C475.4,57.5 476.2,59.5 475.5,62.0 C474.8,64.5 470.9,67.6 468.0,70.0 C465.1,72.4 460.2,74.4 458.0,76.4 C455.8,78.4 454.7,80.1 455.0,82.0 C455.3,83.9 460.0,86.3 460.0,88.0 C460.0,89.7 455.8,91.3 455.0,92.0" fill="none" stroke="#e8404a" stroke-width="1.6" stroke-dasharray="2.6 1.4"/>
<path d="M308.5,25.4 C312.1,25.8 318.9,26.5 330.0,28.0 C341.1,29.5 360.0,32.2 375.0,34.5 C390.0,36.8 407.2,39.4 420.0,42.0 C432.8,44.6 443.8,47.5 452.0,50.0 C460.2,52.5 465.7,54.8 469.0,57.0 C472.3,59.2 472.7,60.7 472.0,63.0 C471.3,65.3 467.7,68.5 465.0,71.0 C462.3,73.5 458.2,75.8 456.0,78.0 C453.8,80.2 451.8,82.0 452.0,84.0 C452.2,86.0 456.2,89.0 457.0,90.0" fill="none" stroke="#7b3fbf" stroke-width="1.5" stroke-dasharray="2.4 1.3 0.8 1.3"/>
<path d="M308.5,32.6 C312.1,32.9 318.9,33.6 330.0,34.5 C341.1,35.4 360.0,36.1 375.0,37.7 C390.0,39.3 407.5,41.8 420.0,44.0 C432.5,46.2 442.3,48.7 450.0,51.0 C457.7,53.3 462.8,55.8 466.0,58.0 C469.2,60.2 469.7,61.7 469.0,64.0 C468.3,66.3 464.7,69.5 462.0,72.0 C459.3,74.5 455.0,76.8 453.0,79.0 C451.0,81.2 449.7,83.0 450.0,85.0 C450.3,87.0 454.2,90.0 455.0,91.0" fill="none" stroke="#f0883a" stroke-width="1.5" stroke-dasharray="2.4 1.3 0.8 1.3"/>
<path d="M308.5,35.5 C312.1,35.8 318.9,36.6 330.0,37.5 C341.1,38.4 360.0,39.0 375.0,40.6 C390.0,42.2 408.0,44.8 420.0,47.0 C432.0,49.2 439.8,51.8 447.0,54.0 C454.2,56.2 459.8,58.0 463.0,60.0 C466.2,62.0 466.7,63.8 466.0,66.0 C465.3,68.2 461.7,70.7 459.0,73.0 C456.3,75.3 452.0,77.8 450.0,80.0 C448.0,82.2 447.5,85.0 447.0,86.0" fill="none" stroke="#f0883a" stroke-width="1.5" stroke-dasharray="2.4 1.3 0.8 1.3"/>
<path d="M308.5,43.1 C312.1,43.2 318.9,43.4 330.0,43.5 C341.1,43.6 360.0,43.2 375.0,44.0 C390.0,44.8 408.3,46.2 420.0,48.0 C431.7,49.8 438.3,52.7 445.0,55.0 C451.7,57.3 457.2,59.8 460.0,62.0 C462.8,64.2 462.8,65.8 462.0,68.0 C461.2,70.2 457.3,72.7 455.0,75.0 C452.7,77.3 448.5,79.5 448.0,82.0 C447.5,84.5 451.3,88.7 452.0,90.0" fill="none" stroke="#1fa64f" stroke-width="1.5" stroke-dasharray="3.5 1.2 0.8 1.2"/>
<path d="M308.5,47.9 C312.1,48.1 318.9,48.3 330.0,49.0 C341.1,49.7 361.7,51.0 375.0,52.3 C388.3,53.6 399.2,55.7 410.0,57.0 C420.8,58.3 432.5,58.7 440.0,60.0 C447.5,61.3 452.0,63.3 455.0,65.0 C458.0,66.7 458.8,68.0 458.0,70.0 C457.2,72.0 452.2,74.7 450.0,77.0 C447.8,79.3 445.0,81.5 445.0,84.0 C445.0,86.5 449.2,90.7 450.0,92.0" fill="none" stroke="#1fa64f" stroke-width="1.5" stroke-dasharray="3.5 1.2 0.8 1.2"/>
<path d="M324.9,56.6 C329.1,56.5 341.6,56.2 350.0,56.0 C358.4,55.8 365.0,55.5 375.0,55.1 C385.0,54.7 399.2,53.4 410.0,53.5 C420.8,53.6 432.0,54.6 440.0,56.0 C448.0,57.4 454.3,60.0 458.0,62.0 C461.7,64.0 462.5,66.0 462.0,68.0 C461.5,70.0 458.7,72.2 455.0,74.0 C451.3,75.8 445.8,78.3 440.0,79.0 C434.2,79.7 423.3,78.2 420.0,78.0" fill="none" stroke="#2f7fcf" stroke-width="1.4" stroke-dasharray="2.8 1.3 0.8 1.3"/>
<path d="M308.5,62.4 C312.1,62.8 321.4,63.6 330.0,64.5 C338.6,65.4 350.0,66.4 360.0,68.0 C370.0,69.6 380.0,72.5 390.0,74.0 C400.0,75.5 410.8,76.0 420.0,77.0 C429.2,78.0 439.2,78.5 445.0,80.0 C450.8,81.5 453.8,84.0 455.0,86.0 C456.2,88.0 452.5,91.0 452.0,92.0" fill="none" stroke="#2f7fcf" stroke-width="1.4" stroke-dasharray="2.8 1.3 0.8 1.3"/>
<path d="M410.0,55.5 C413.3,55.4 424.3,54.6 430.0,55.0 C435.7,55.4 441.1,56.6 444.0,58.0 C446.9,59.4 448.0,61.5 447.7,63.2 C447.4,65.0 445.8,67.3 442.0,68.5 C438.2,69.7 430.7,70.2 425.0,70.5 C419.3,70.8 411.7,70.3 408.0,70.0 C404.3,69.7 403.8,68.8 403.0,68.6" fill="none" stroke="#e8383d" stroke-width="1.5"/>
<path d="M399.0,55.1 C404.2,54.8 421.8,52.7 430.0,53.0 C438.2,53.3 444.5,55.2 448.0,57.0 C451.5,58.8 451.5,61.3 451.0,63.5 C450.5,65.7 449.3,68.5 445.0,70.0 C440.7,71.5 432.5,72.2 425.0,72.5 C417.5,72.8 404.2,71.7 400.0,71.5" fill="none" stroke="#222" stroke-width="1.3" stroke-dasharray="3 1.5"/>
<path d="M420.0,60.0 C422.3,60.1 430.7,60.0 434.0,60.5 C437.3,61.0 439.7,62.0 440.0,63.0 C440.3,64.0 438.0,65.6 436.0,66.3 C434.0,67.0 431.0,67.0 428.0,67.0 C425.0,67.0 419.7,66.6 418.0,66.5" fill="none" stroke="#e8383d" stroke-width="1.5"/>
<path d="M415.4,59.9 C418.8,59.7 431.4,58.0 436.0,58.5 C440.6,59.0 442.7,61.4 443.0,63.0 C443.3,64.6 441.8,67.1 438.0,68.0 C434.2,68.9 423.0,68.4 420.0,68.5" fill="none" stroke="#222" stroke-width="1.2" stroke-dasharray="3 1.5"/>
<path d="M378.0,61.4 C375.8,61.5 368.3,61.5 365.0,62.3 C361.7,63.1 358.0,64.7 358.0,66.0 C358.0,67.3 360.5,69.1 365.0,70.0 C369.5,70.9 375.8,70.9 385.0,71.5 C394.2,72.1 409.2,73.4 420.0,73.5 C430.8,73.6 445.0,72.2 450.0,72.0" fill="none" stroke="#2f7fcf" stroke-width="1.3" stroke-dasharray="2.8 1.3 0.8 1.3"/>
<path d="M375.0,66.0 C377.2,65.8 383.5,64.4 388.0,64.5 C392.5,64.6 400.0,65.5 402.0,66.5 C404.0,67.5 402.8,69.7 400.0,70.5 C397.2,71.3 389.7,71.6 385.0,71.5 C380.3,71.4 374.2,70.2 372.0,70.0" fill="none" stroke="#1fa64f" stroke-width="1.3" stroke-dasharray="3.5 1.2 0.8 1.2"/>
<polygon points="395.0,66.5 383.0,69.1 386.6,66.5 383.0,63.9" fill="#f0883a"/>
<polygon points="405.0,69.0 395.0,71.2 398.0,69.0 395.0,66.8" fill="#e8383d"/>
<polygon points="380.0,61.4 373.0,63.4 375.1,61.4 373.0,59.4" fill="#2f7fcf"/>
<path d="M333.0,71.2 C340.0,71.9 362.2,74.2 375.0,75.5 C387.8,76.8 401.7,77.9 410.0,79.0 C418.3,80.1 421.0,80.4 425.0,82.0 C429.0,83.6 433.5,86.3 434.0,88.6 C434.5,90.8 431.2,93.7 428.0,95.5 C424.8,97.3 419.7,98.7 415.0,99.5 C410.3,100.3 402.5,100.3 400.0,100.5" fill="none" stroke="#e8383d" stroke-width="1.5"/>
<path d="M310.0,71.0 C315.0,71.1 329.2,71.1 340.0,71.5 C350.8,71.9 363.3,72.5 375.0,73.4 C386.7,74.3 400.8,75.8 410.0,77.0 C419.2,78.2 425.5,78.7 430.0,80.5 C434.5,82.3 436.7,85.4 437.0,88.0 C437.3,90.6 435.2,93.8 432.0,96.0 C428.8,98.2 422.5,100.0 418.0,101.0 C413.5,102.0 407.2,101.8 405.0,102.0" fill="none" stroke="#222" stroke-width="1.3" stroke-dasharray="3 1.5"/>
<path d="M308.5,74.1 C319.6,75.1 356.4,77.9 375.0,79.9 C393.6,81.9 408.3,84.2 420.0,86.0 C431.7,87.8 438.3,89.7 445.0,91.0 C451.7,92.3 452.5,92.8 460.0,94.0 C467.5,95.2 490.0,96.8 490.0,98.2 C490.0,99.7 468.3,101.8 460.0,102.7 C451.7,103.6 444.5,103.4 440.0,103.5 C435.5,103.6 434.2,103.4 433.0,103.4" fill="none" stroke="#e8383d" stroke-width="1.5"/>
<path d="M440.0,91.8 C448.3,92.8 486.7,96.3 490.0,98.0 C493.3,99.7 469.0,101.2 460.0,102.0 C451.0,102.8 440.0,102.8 436.0,103.0" fill="none" stroke="#222" stroke-width="1.2" stroke-dasharray="3 1.5"/>
<path d="M450.0,93.0 C456.3,93.9 481.7,97.6 488.0,98.5" fill="none" stroke="#2f7fcf" stroke-width="1.1" stroke-dasharray="2.8 1.3 0.8 1.3"/>
<polygon points="308.5,19.1 316.5,16.7 314.1,19.1 316.5,21.5" fill="#e8404a"/>
<polygon points="312.1,19.1 320.1,16.7 317.7,19.1 320.1,21.5" fill="#e8404a"/>
<polygon points="308.5,25.4 316.5,23.0 314.1,25.4 316.5,27.8" fill="#7b3fbf"/>
<polygon points="312.1,25.4 320.1,23.0 317.7,25.4 320.1,27.8" fill="#7b3fbf"/>
<polygon points="308.5,32.6 316.5,30.2 314.1,32.6 316.5,35.0" fill="#f0883a"/>
<polygon points="312.1,32.6 320.1,30.2 317.7,32.6 320.1,35.0" fill="#f0883a"/>
<polygon points="308.5,35.5 316.5,33.1 314.1,35.5 316.5,37.9" fill="#f0883a"/>
<polygon points="312.1,35.5 320.1,33.1 317.7,35.5 320.1,37.9" fill="#f0883a"/>
<polygon points="308.5,43.1 316.5,40.7 314.1,43.1 316.5,45.5" fill="#1fa64f"/>
<polygon points="312.1,43.1 320.1,40.7 317.7,43.1 320.1,45.5" fill="#1fa64f"/>
<polygon points="308.5,47.9 316.5,45.5 314.1,47.9 316.5,50.3" fill="#1fa64f"/>
<polygon points="312.1,47.9 320.1,45.5 317.7,47.9 320.1,50.3" fill="#1fa64f"/>
<polygon points="324.9,56.6 332.9,54.2 330.5,56.6 332.9,59.0" fill="#2f7fcf"/>
<polygon points="328.5,56.6 336.5,54.2 334.1,56.6 336.5,59.0" fill="#2f7fcf"/>
<polygon points="308.5,62.4 316.5,60.0 314.1,62.4 316.5,64.8" fill="#2f7fcf"/>
<polygon points="312.1,62.4 320.1,60.0 317.7,62.4 320.1,64.8" fill="#2f7fcf"/>
<polygon points="308.5,70.4 316.5,68.0 314.1,70.4 316.5,72.8" fill="#222"/>
<polygon points="312.1,70.4 320.1,68.0 317.7,70.4 320.1,72.8" fill="#222"/>
<polygon points="329.3,68.2 337.3,65.8 334.9,68.2 337.3,70.6" fill="#222"/>
<polygon points="332.9,68.2 340.9,65.8 338.5,68.2 340.9,70.6" fill="#222"/>
<polygon points="308.5,74.1 316.5,71.7 314.1,74.1 316.5,76.5" fill="#e8383d"/>
<polygon points="312.1,74.1 320.1,71.7 317.7,74.1 320.1,76.5" fill="#e8383d"/>
<polygon points="333.0,71.2 341.0,68.8 338.6,71.2 341.0,73.6" fill="#e8383d"/>
<polygon points="336.6,71.2 344.6,68.8 342.2,71.2 344.6,73.6" fill="#e8383d"/>
<polygon points="399.0,55.1 407.0,52.7 404.6,55.1 407.0,57.5" fill="#222"/>
<polygon points="402.6,55.1 410.6,52.7 408.2,55.1 410.6,57.5" fill="#222"/>
<polygon points="415.4,59.9 423.4,57.5 421.0,59.9 423.4,62.3" fill="#222"/>
<polygon points="419.0,59.9 427.0,57.5 424.6,59.9 427.0,62.3" fill="#222"/>
<polygon points="413.4,55.1 421.4,52.7 419.0,55.1 421.4,57.5" fill="#e8383d"/>
<polygon points="417.0,55.1 425.0,52.7 422.6,55.1 425.0,57.5" fill="#e8383d"/>
<polygon points="428.0,60.9 436.0,58.5 433.6,60.9 436.0,63.3" fill="#e8383d"/>
<polygon points="431.6,60.9 439.6,58.5 437.2,60.9 439.6,63.3" fill="#e8383d"/>
<path d="M317.7,98.0 C318.5,97.0 324.6,95.8 330.0,95.2 C335.4,94.6 341.7,94.7 350.0,94.6 C358.3,94.5 372.5,94.6 380.0,94.8 C387.5,95.0 393.3,95.1 395.0,95.9 C396.7,96.7 393.3,98.5 390.0,99.5 C386.7,100.5 381.7,101.6 375.0,102.2 C368.3,102.8 358.3,103.2 350.0,103.0 C341.7,102.8 330.4,102.0 325.0,101.2 C319.6,100.4 316.9,99.0 317.7,98.0Z" fill="none" stroke="#e8383d" stroke-width="1.4"/>
<path d="M325.0,97.5 C335.8,97.5 379.2,97.2 390.0,97.2" fill="none" stroke="#1fa64f" stroke-width="1.3" stroke-dasharray="3.5 1.2 0.8 1.2"/>
<path d="M328.0,98.8 C337.5,98.8 375.5,98.6 385.0,98.6" fill="none" stroke="#f0883a" stroke-width="1.2" stroke-dasharray="2.4 1.3 0.8 1.3"/>
<path d="M330.0,100.0 C338.3,100.0 371.7,100.0 380.0,100.0" fill="none" stroke="#7b3fbf" stroke-width="1.2" stroke-dasharray="2.4 1.3 0.8 1.3"/>
<path d="M335.0,101.2 C340.8,101.2 364.2,101.2 370.0,101.2" fill="none" stroke="#2f7fcf" stroke-width="1.1" stroke-dasharray="2.8 1.3 0.8 1.3"/>
<path d="M379.0,102.7 C385.8,102.5 413.2,101.8 420.0,101.6" fill="none" stroke="#222" stroke-width="1.1" stroke-dasharray="3 1.5"/>
<polygon points="396,95.9 388,94 388,97.8" fill="#e8383d"/>
<polygon points="357.8,107.7 364,105.5 364,110" fill="#f0883a"/>
<line x1="328" y1="106" x2="340" y2="101" stroke="#7b3fbf" stroke-width="1.4"/>
<path d="M433.0,103.4 C437.5,103.2 455.5,102.2 460.0,102.0" fill="none" stroke="#e8383d" stroke-width="1.2"/>
<text x="343.9" y="91.9" font-size="7.3" text-anchor="start" fill="#333" stroke="#333" stroke-width="0.22">Car body yaw</text>
<text x="300.8" y="105.2" font-size="7.3" text-anchor="start" fill="#333" stroke="#333" stroke-width="0.22">Car body</text>
<text x="307.4" y="110.8" font-size="7.3" text-anchor="start" fill="#333" stroke="#333" stroke-width="0.22">rolling</text>
<text x="362.0" y="110.1" font-size="7.7" text-anchor="start" fill="#333" stroke="#333" stroke-width="0.22">Car body lateral</text>
<text x="433.0" y="15.3" font-size="7.4" text-anchor="middle" fill="#333" stroke="#333" stroke-width="0.22">Anti-yaw damper parallel connection:</text>
<text x="431.0" y="21.6" font-size="7.4" text-anchor="middle" fill="#333" stroke="#333" stroke-width="0.22" xml:space="preserve">ZF Sachs T60×2    5 MN/m  480 kN·s/m</text>
<text x="431.0" y="28.2" font-size="7.4" text-anchor="middle" fill="#333" stroke="#333" stroke-width="0.22" xml:space="preserve">ZF Sachs T70×2  18 MN/m  440 kN·s/m</text>
<line x1="496.5" y1="11.4" x2="514.1" y2="11.4" stroke="#e8383d" stroke-width="1.5"/>
<text x="514.7" y="13.7" font-size="6.8" fill="#444" textLength="24.5" lengthAdjust="spacingAndGlyphs"><tspan font-style="italic">λ</tspan><tspan font-style="italic" font-size="4.8" dy="0.8">e</tspan><tspan dy="-0.8">=0.08</tspan></text>
<line x1="496.5" y1="17.2" x2="514.1" y2="17.2" stroke="#222" stroke-width="1.5" stroke-dasharray="3 1.5"/>
<text x="514.7" y="19.5" font-size="6.8" fill="#444" textLength="24.5" lengthAdjust="spacingAndGlyphs"><tspan font-style="italic">λ</tspan><tspan font-style="italic" font-size="4.8" dy="0.8">e</tspan><tspan dy="-0.8">=0.10</tspan></text>
<line x1="496.5" y1="23.0" x2="514.1" y2="23.0" stroke="#2f7fcf" stroke-width="1.5" stroke-dasharray="2.8 1.3 0.8 1.3"/>
<text x="514.7" y="25.3" font-size="6.8" fill="#444" textLength="24.5" lengthAdjust="spacingAndGlyphs"><tspan font-style="italic">λ</tspan><tspan font-style="italic" font-size="4.8" dy="0.8">e</tspan><tspan dy="-0.8">=0.15</tspan></text>
<line x1="496.5" y1="28.7" x2="514.1" y2="28.7" stroke="#1fa64f" stroke-width="1.5" stroke-dasharray="3.5 1.2 0.8 1.2"/>
<text x="514.7" y="31.0" font-size="6.8" fill="#444" textLength="24.5" lengthAdjust="spacingAndGlyphs"><tspan font-style="italic">λ</tspan><tspan font-style="italic" font-size="4.8" dy="0.8">e</tspan><tspan dy="-0.8">=0.20</tspan></text>
<line x1="496.5" y1="34.5" x2="514.1" y2="34.5" stroke="#f0883a" stroke-width="1.5" stroke-dasharray="2.4 1.3 0.8 1.3"/>
<text x="514.7" y="36.8" font-size="6.8" fill="#444" textLength="24.5" lengthAdjust="spacingAndGlyphs"><tspan font-style="italic">λ</tspan><tspan font-style="italic" font-size="4.8" dy="0.8">e</tspan><tspan dy="-0.8">=0.25</tspan></text>
<line x1="496.5" y1="40.3" x2="514.1" y2="40.3" stroke="#7b3fbf" stroke-width="1.5" stroke-dasharray="2.4 1.3 0.8 1.3"/>
<text x="514.7" y="42.6" font-size="6.8" fill="#444" textLength="24.5" lengthAdjust="spacingAndGlyphs"><tspan font-style="italic">λ</tspan><tspan font-style="italic" font-size="4.8" dy="0.8">e</tspan><tspan dy="-0.8">=0.30</tspan></text>
<line x1="496.5" y1="46.1" x2="514.1" y2="46.1" stroke="#e8404a" stroke-width="1.5" stroke-dasharray="2.6 1.4"/>
<text x="514.7" y="48.4" font-size="6.8" fill="#444" textLength="24.5" lengthAdjust="spacingAndGlyphs"><tspan font-style="italic">λ</tspan><tspan font-style="italic" font-size="4.8" dy="0.8">e</tspan><tspan dy="-0.8">=0.35</tspan></text>
<path d="M400.8,198.0 C405.7,197.8 421.0,196.7 430.0,196.8 C439.0,196.9 448.5,197.1 455.0,198.5 C461.5,199.9 468.6,203.1 469.1,205.2 C469.6,207.3 462.9,209.7 458.0,211.0 C453.1,212.3 446.3,212.8 440.0,212.8 C433.7,212.8 425.5,211.7 420.0,211.0 C414.5,210.3 409.0,209.2 406.8,208.8" fill="none" stroke="#ef5157" stroke-width="1.3"/>
<path d="M398.0,200.0 C403.3,199.2 420.0,195.5 430.0,195.0 C440.0,194.5 451.0,195.3 458.0,197.0 C465.0,198.7 471.7,202.3 472.0,205.0 C472.3,207.7 465.3,211.4 460.0,213.0 C454.7,214.6 447.5,214.7 440.0,214.5 C432.5,214.3 419.2,212.4 415.0,212.0" fill="none" stroke="#333" stroke-width="1.1" stroke-dasharray="3 1.6"/>
<path d="M415.2,201.6 C418.5,201.6 429.0,200.7 435.0,201.5 C441.0,202.3 450.4,205.2 451.2,206.4 C452.0,207.7 444.4,208.5 440.0,209.0 C435.6,209.5 427.5,209.2 425.0,209.2" fill="none" stroke="#ef5157" stroke-width="1.3"/>
<path d="M413.0,203.0 C417.5,202.8 433.2,201.4 440.0,202.0 C446.8,202.6 453.7,205.1 454.0,206.5 C454.3,207.9 447.7,209.8 442.0,210.5 C436.3,211.2 423.7,210.5 420.0,210.5" fill="none" stroke="#333" stroke-width="1.1" stroke-dasharray="3 1.6"/>
<path d="M333.0,211.9 C337.5,212.2 349.3,213.1 360.0,214.0 C370.7,214.9 387.0,216.5 397.0,217.5 C407.0,218.5 414.2,219.1 420.0,220.0 C425.8,220.9 429.2,221.5 432.0,223.0 C434.8,224.5 437.1,226.9 436.8,229.1 C436.5,231.3 432.8,234.2 430.0,236.0 C427.2,237.8 425.8,239.1 420.0,240.0 C414.2,240.9 403.3,241.3 395.0,241.5 C386.7,241.7 374.2,241.1 370.0,241.0" fill="none" stroke="#ef5157" stroke-width="1.3"/>
<path d="M333.0,208.8 C337.5,209.2 349.3,210.0 360.0,211.0 C370.7,212.0 386.2,213.7 397.0,215.0 C407.8,216.3 418.5,217.5 425.0,219.0 C431.5,220.5 433.5,222.2 436.0,224.0 C438.5,225.8 440.5,227.7 440.0,230.0 C439.5,232.3 436.3,236.1 433.0,238.0 C429.7,239.9 426.3,240.7 420.0,241.5 C413.7,242.3 399.2,242.8 395.0,243.0" fill="none" stroke="#333" stroke-width="1.1" stroke-dasharray="3 1.6"/>
<path d="M310.7,213.5 C317.2,214.1 335.6,215.8 350.0,217.0 C364.4,218.2 384.5,219.4 397.0,220.7 C409.5,222.0 418.5,223.4 425.0,225.0 C431.5,226.6 430.2,228.5 436.0,230.0 C441.8,231.5 450.5,232.6 460.0,234.0 C469.5,235.4 491.2,237.1 492.9,238.5 C494.6,239.9 478.8,241.8 470.0,242.7 C461.2,243.6 448.3,243.7 440.0,244.0 C431.7,244.3 423.3,244.4 420.0,244.5" fill="none" stroke="#ef5157" stroke-width="1.3"/>
<path d="M310.7,211.2 C317.2,211.8 335.6,213.8 350.0,215.0 C364.4,216.2 383.7,217.0 397.0,218.5 C410.3,220.0 417.8,221.8 430.0,224.0 C442.2,226.2 459.7,229.7 470.0,232.0 C480.3,234.3 492.0,236.4 492.0,238.0 C492.0,239.6 478.7,240.7 470.0,241.5 C461.3,242.3 445.0,242.8 440.0,243.0" fill="none" stroke="#333" stroke-width="1.1" stroke-dasharray="3 1.6"/>
<polygon points="310.7,211.2 317.7,209.2 315.6,211.2 317.7,213.2" fill="#333"/>
<polygon points="333.0,208.8 340.0,206.8 337.9,208.8 340.0,210.8" fill="#333"/>
<polygon points="310.7,213.5 317.7,211.5 315.6,213.5 317.7,215.5" fill="#ef5157"/>
<polygon points="333.0,211.9 340.0,209.9 337.9,211.9 340.0,213.9" fill="#ef5157"/>
<polygon points="400.8,198.0 407.8,196.0 405.7,198.0 407.8,200.0" fill="#333"/>
<polygon points="398.0,200.0 405.0,198.0 402.9,200.0 405.0,202.0" fill="#333"/>
<polygon points="415.2,201.6 422.2,199.6 420.1,201.6 422.2,203.6" fill="#ef5157"/>
<path d="M321.9,238.6 C322.7,238.0 323.6,237.2 330.0,236.8 C336.4,236.5 349.7,236.5 360.0,236.5 C370.3,236.5 385.2,236.5 392.0,236.6 C398.8,236.7 401.0,236.9 401.0,237.2 C401.0,237.5 398.8,238.2 392.0,238.6 C385.2,239.0 369.5,239.4 360.0,239.8 C350.5,240.2 340.8,241.1 335.0,241.2 C329.2,241.3 327.2,240.9 325.0,240.5 C322.8,240.1 321.1,239.2 321.9,238.6Z" fill="none" stroke="#ef5157" stroke-width="1.2"/>
<path d="M330.0,238.2 C339.7,238.1 378.3,237.9 388.0,237.8" fill="none" stroke="#333" stroke-width="1.0" stroke-dasharray="3 1.6"/>
<ellipse cx="393" cy="236.7" rx="7" ry="3.2" fill="none" stroke="#7d2aa8" stroke-width="0.8" stroke-dasharray="0.8 0.8"/>
<polygon points="386.0,237.0 393.0,235.2 390.9,237.0 393.0,238.8" fill="#333"/>
<ellipse cx="345.6" cy="242.3" rx="10" ry="3.6" fill="none" stroke="#7d2aa8" stroke-width="0.8" stroke-dasharray="0.8 0.8"/>
<line x1="338" y1="245" x2="346" y2="242" stroke="#7d2aa8" stroke-width="1.6"/>
<path d="M341.0,242.3 C343.3,242.2 352.3,242.1 354.6,242.0" fill="none" stroke="#ef5157" stroke-width="1.4"/>
<path d="M357.0,239.6 C357.8,239.6 361.2,239.6 362.0,239.6" fill="none" stroke="#ef5157" stroke-width="1.0" stroke-dasharray="1.5 1"/>
<circle cx="361.4" cy="248.4" r="4" fill="none" stroke="#7d2aa8" stroke-width="0.8" stroke-dasharray="0.8 0.8"/>
<circle cx="361.4" cy="248.4" r="1.1" fill="#ef5157"/>
<ellipse cx="345.5" cy="206.8" rx="4" ry="12.5" transform="rotate(10 345.5 206.8)" fill="none" stroke="#7d2aa8" stroke-width="0.8" stroke-dasharray="0.8 0.8"/>
<line x1="357.4" y1="189.6" x2="346" y2="200" stroke="#7d2aa8" stroke-width="0.9"/>
<circle cx="357.4" cy="189.6" r="1.7" fill="#7d2aa8"/>
<line x1="469" y1="205.2" x2="491.2" y2="208.5" stroke="#7d2aa8" stroke-width="0.9" stroke-dasharray="0.8 0.8"/>
<circle cx="491.2" cy="208.5" r="1.7" fill="#7d2aa8"/>
<text x="328.7" y="180.7" font-size="7.6" text-anchor="start" fill="#333" stroke="#333" stroke-width="0.22">Bogie hunting motion tends to be</text>
<text x="325.8" y="187.4" font-size="7.6" text-anchor="start" fill="#333" stroke="#333" stroke-width="0.22">unstable with the increase of speed</text>
<text x="471.7" y="216.5" font-size="7.6" text-anchor="start" fill="#333" stroke="#333" stroke-width="0.22">Self-stable vibration</text>
<text x="469.5" y="223.3" font-size="7.6" text-anchor="start" fill="#333" stroke="#333" stroke-width="0.22">of motor yaw motion</text>
<text x="368.9" y="231.2" font-size="7.5" text-anchor="start" fill="#333" stroke="#333" stroke-width="0.22">Car body yaw</text>
<text x="298.2" y="250.8" font-size="7.3" text-anchor="start" fill="#333" stroke="#333" stroke-width="0.22">Car body rolling</text>
<text x="365.0" y="250.6" font-size="7.6" text-anchor="start" fill="#333" stroke="#333" stroke-width="0.22">Car body lateral</text>
<line x1="488" y1="162.4" x2="502.2" y2="162.4" stroke="#ef5157" stroke-width="1.5"/>
<text x="502.7" y="164.7" font-size="7.4" fill="#444" textLength="24.0" lengthAdjust="spacingAndGlyphs"><tspan font-style="italic">λ</tspan><tspan font-style="italic" font-size="5.2" dy="0.8">e</tspan><tspan dy="-0.8">=0.08</tspan></text>
<line x1="488" y1="168.7" x2="502.2" y2="168.7" stroke="#333" stroke-width="1.5" stroke-dasharray="3 1.6"/>
<text x="502.7" y="171.0" font-size="7.4" fill="#444" textLength="24.0" lengthAdjust="spacingAndGlyphs"><tspan font-style="italic">λ</tspan><tspan font-style="italic" font-size="5.2" dy="0.8">e</tspan><tspan dy="-0.8">=0.10</tspan></text>
<line x1="488" y1="174.9" x2="502.2" y2="174.9" stroke="#4b9bd8" stroke-width="1.5" stroke-dasharray="3.2 1.3 0.9 1.3"/>
<text x="502.7" y="177.2" font-size="7.4" fill="#444" textLength="24.0" lengthAdjust="spacingAndGlyphs"><tspan font-style="italic">λ</tspan><tspan font-style="italic" font-size="5.2" dy="0.8">e</tspan><tspan dy="-0.8">=0.15</tspan></text>
<path d="M309.9,302.2 C314.9,302.8 328.3,304.4 340.0,305.8 C351.7,307.2 365.7,308.6 380.0,310.6 C394.3,312.6 413.5,315.4 426.0,318.0 C438.5,320.6 447.3,323.3 455.0,326.0 C462.7,328.7 468.2,331.1 472.0,334.0 C475.8,336.9 477.9,340.4 477.7,343.4 C477.5,346.4 473.3,349.4 471.0,352.0 C468.7,354.6 465.3,356.5 464.0,359.0 C462.7,361.5 461.7,364.5 463.0,367.0 C464.3,369.5 467.7,371.9 472.0,374.0 C476.3,376.1 485.8,378.8 488.6,379.7" fill="none" stroke="#f0505a" stroke-width="1.6" stroke-dasharray="2.6 1.4"/>
<path d="M345.0,303.0 C350.8,303.9 366.5,306.3 380.0,308.2 C393.5,310.1 413.0,311.8 426.0,314.3 C439.0,316.8 450.0,320.1 458.0,323.0 C466.0,325.9 470.3,328.8 474.0,332.0 C477.7,335.2 480.0,338.8 480.0,342.0 C480.0,345.2 476.2,348.3 474.0,351.0 C471.8,353.7 468.3,355.5 467.0,358.0 C465.7,360.5 464.7,363.5 466.0,366.0 C467.3,368.5 471.3,370.9 475.0,373.0 C478.7,375.1 485.8,377.6 488.0,378.5" fill="none" stroke="#f0505a" stroke-width="1.4" stroke-dasharray="2.6 1.4"/>
<path d="M309.9,307.6 C314.9,308.0 327.3,308.5 340.0,310.0 C352.7,311.5 371.0,314.4 386.0,316.6 C401.0,318.8 418.0,320.8 430.0,323.0 C442.0,325.2 451.0,327.7 458.0,330.0 C465.0,332.3 469.2,334.7 472.0,337.0 C474.8,339.3 475.7,341.5 475.0,344.0 C474.3,346.5 470.3,349.5 468.0,352.0 C465.7,354.5 462.3,356.5 461.0,359.0 C459.7,361.5 458.7,364.5 460.0,367.0 C461.3,369.5 464.7,371.8 469.0,374.0 C473.3,376.2 483.2,379.0 486.0,380.0" fill="none" stroke="#9466cc" stroke-width="1.4" stroke-dasharray="2.4 1.3 0.8 1.3"/>
<path d="M309.9,314.3 C314.9,314.7 327.3,315.4 340.0,316.5 C352.7,317.6 371.0,319.2 386.0,321.0 C401.0,322.8 418.3,324.8 430.0,327.0 C441.7,329.2 449.7,331.8 456.0,334.0 C462.3,336.2 465.7,338.0 468.0,340.0 C470.3,342.0 470.7,343.8 470.0,346.0 C469.3,348.2 466.0,350.7 464.0,353.0 C462.0,355.3 459.2,357.7 458.0,360.0 C456.8,362.3 455.8,364.7 457.0,367.0 C458.2,369.3 460.5,372.0 465.0,374.0 C469.5,376.0 480.8,378.2 484.0,379.0" fill="none" stroke="#f3a86a" stroke-width="1.4" stroke-dasharray="2.4 1.3 0.8 1.3"/>
<path d="M309.9,317.9 C314.9,318.2 327.3,319.0 340.0,320.0 C352.7,321.0 371.0,322.3 386.0,324.0 C401.0,325.7 419.0,328.0 430.0,330.0 C441.0,332.0 446.3,334.0 452.0,336.0 C457.7,338.0 461.8,340.0 464.0,342.0 C466.2,344.0 466.2,345.8 465.0,348.0 C463.8,350.2 459.7,352.7 457.0,355.0 C454.3,357.3 451.7,359.3 449.0,362.0 C446.3,364.7 443.2,368.3 441.0,371.0 C438.8,373.7 436.8,376.8 436.0,378.0" fill="none" stroke="#f3a86a" stroke-width="1.4" stroke-dasharray="2.4 1.3 0.8 1.3"/>
<path d="M309.9,325.6 C314.9,325.7 327.3,326.0 340.0,326.3 C352.7,326.6 371.0,326.7 386.0,327.5 C401.0,328.3 418.5,329.4 430.0,331.0 C441.5,332.6 449.0,335.0 455.0,337.0 C461.0,339.0 464.0,341.0 466.0,343.0 C468.0,345.0 468.0,346.8 467.0,349.0 C466.0,351.2 462.0,354.0 460.0,356.0 C458.0,358.0 455.1,358.4 455.0,361.0 C454.9,363.6 456.7,368.8 459.5,371.3 C462.3,373.8 467.1,374.6 472.0,376.0 C476.9,377.4 485.8,379.1 488.6,379.7" fill="none" stroke="#3cb66a" stroke-width="1.4" stroke-dasharray="3.5 1.2 0.8 1.2"/>
<path d="M309.9,329.8 C314.9,330.0 327.3,330.6 340.0,331.0 C352.7,331.4 374.2,331.9 386.0,332.5 C397.8,333.1 402.0,334.0 411.0,334.9 C420.0,335.8 431.9,336.8 440.0,338.0 C448.1,339.2 455.2,340.4 459.5,342.1 C463.8,343.8 465.5,346.2 465.6,348.2 C465.7,350.2 462.0,352.0 460.0,354.0 C458.0,356.0 456.3,357.6 453.4,360.3 C450.5,363.0 445.9,366.8 442.5,370.0 C439.1,373.2 434.4,378.1 432.8,379.7" fill="none" stroke="#3cb66a" stroke-width="1.4" stroke-dasharray="3.5 1.2 0.8 1.2"/>
<polygon points="309.9,302.2 317.9,300.0 315.5,302.2 317.9,304.4" fill="#f0505a"/>
<polygon points="313.5,302.2 321.5,300.0 319.1,302.2 321.5,304.4" fill="#f0505a"/>
<polygon points="309.9,307.6 317.9,305.4 315.5,307.6 317.9,309.8" fill="#9466cc"/>
<polygon points="313.5,307.6 321.5,305.4 319.1,307.6 321.5,309.8" fill="#9466cc"/>
<polygon points="309.9,315.0 317.9,312.8 315.5,315.0 317.9,317.2" fill="#f3a86a"/>
<polygon points="313.5,315.0 321.5,312.8 319.1,315.0 321.5,317.2" fill="#f3a86a"/>
<polygon points="309.9,318.3 317.9,316.1 315.5,318.3 317.9,320.5" fill="#f3a86a"/>
<polygon points="313.5,318.3 321.5,316.1 319.1,318.3 321.5,320.5" fill="#f3a86a"/>
<polygon points="309.9,325.6 317.9,323.4 315.5,325.6 317.9,327.8" fill="#3cb66a"/>
<polygon points="313.5,325.6 321.5,323.4 319.1,325.6 321.5,327.8" fill="#3cb66a"/>
<polygon points="309.9,330.2 317.9,328.0 315.5,330.2 317.9,332.4" fill="#3cb66a"/>
<polygon points="313.5,330.2 321.5,328.0 319.1,330.2 321.5,332.4" fill="#3cb66a"/>
<ellipse cx="341.8" cy="320.7" rx="3.2" ry="18.5" transform="rotate(13 341.8 320.7)" fill="none" stroke="#f0505a" stroke-width="1.2" stroke-dasharray="2.5 1.4"/>
<circle cx="377.8" cy="309" r="1.8" fill="#f0505a"/>
<ellipse cx="390.5" cy="348.2" rx="19" ry="3.6" fill="none" stroke="#3cb66a" stroke-width="1.3" stroke-dasharray="3 1.2 0.8 1.2"/>
<ellipse cx="393" cy="348.2" rx="15" ry="2.5" fill="none" stroke="#f0505a" stroke-width="1.2" stroke-dasharray="2.5 1.2"/>
<polygon points="385,344.5 399,346.5 387,349.5" fill="#f3a86a"/>
<polygon points="389,346 402,348.5 391,351" fill="#f0505a"/>
<path d="M378.0,350.0 C382.3,350.2 399.7,350.8 404.0,351.0" fill="none" stroke="#3cb66a" stroke-width="1.3"/>
<path d="M395.0,345.5 C397.8,345.8 409.2,346.8 412.0,347.0" fill="none" stroke="#9466cc" stroke-width="1.1" stroke-dasharray="2.4 1.3 0.8 1.3"/>
<path d="M342.1,378.5 C346.8,378.5 361.5,378.3 370.0,378.3 C378.5,378.3 389.2,378.5 393.0,378.5" fill="none" stroke="#3cb66a" stroke-width="1.3" stroke-dasharray="3.5 1.2 0.8 1.2"/>
<path d="M350.0,380.0 C357.2,380.0 385.8,379.8 393.0,379.8" fill="none" stroke="#f0505a" stroke-width="1.2" stroke-dasharray="2.6 1.4"/>
<path d="M352.0,377.0 C358.3,377.0 383.7,377.0 390.0,377.0" fill="none" stroke="#f3a86a" stroke-width="1.1" stroke-dasharray="2.4 1.3 0.8 1.3"/>
<circle cx="394.2" cy="380.2" r="3" fill="none" stroke="#f0505a" stroke-width="1" stroke-dasharray="1.8 1"/>
<ellipse cx="359.4" cy="386.4" rx="7" ry="3.2" fill="none" stroke="#f0505a" stroke-width="1" stroke-dasharray="1.8 1"/>
<text x="368.0" y="299.8" font-size="7.6" text-anchor="start" fill="#333" stroke="#333" stroke-width="0.22">Bogie hunting motion tends to be</text>
<text x="365.6" y="306.8" font-size="7.6" text-anchor="start" fill="#333" stroke="#333" stroke-width="0.22">unstable with the increase of speed</text>
<text x="370.2" y="360.1" font-size="7.4" text-anchor="start" fill="#333" stroke="#333" stroke-width="0.22">Self-stable vibration</text>
<text x="368.6" y="366.3" font-size="7.4" text-anchor="start" fill="#333" stroke="#333" stroke-width="0.22">of motor yaw motion</text>
<text x="297.5" y="376.5" font-size="7.4" text-anchor="start" fill="#333" stroke="#333" stroke-width="0.22">Car body rolling</text>
<text x="381.0" y="376.4" font-size="7.4" text-anchor="start" fill="#333" stroke="#333" stroke-width="0.22">Car body yaw</text>
<text x="364.6" y="391.3" font-size="7.4" text-anchor="start" fill="#333" stroke="#333" stroke-width="0.22">Car body lateral</text>
<line x1="487.6" y1="298.5" x2="502.2" y2="298.5" stroke="#3cb66a" stroke-width="1.5" stroke-dasharray="3.5 1.2 0.8 1.2"/>
<text x="503.4" y="300.8" font-size="7.4" fill="#444" textLength="24.3" lengthAdjust="spacingAndGlyphs"><tspan font-style="italic">λ</tspan><tspan font-style="italic" font-size="5.2" dy="0.8">e</tspan><tspan dy="-0.8">=0.20</tspan></text>
<line x1="487.6" y1="304.2" x2="502.2" y2="304.2" stroke="#f3a86a" stroke-width="1.5" stroke-dasharray="2.4 1.3 0.8 1.3"/>
<text x="503.4" y="306.5" font-size="7.4" fill="#444" textLength="24.3" lengthAdjust="spacingAndGlyphs"><tspan font-style="italic">λ</tspan><tspan font-style="italic" font-size="5.2" dy="0.8">e</tspan><tspan dy="-0.8">=0.25</tspan></text>
<line x1="487.6" y1="309.9" x2="502.2" y2="309.9" stroke="#9466cc" stroke-width="1.5" stroke-dasharray="2.4 1.3 0.8 1.3"/>
<text x="503.4" y="312.2" font-size="7.4" fill="#444" textLength="24.3" lengthAdjust="spacingAndGlyphs"><tspan font-style="italic">λ</tspan><tspan font-style="italic" font-size="5.2" dy="0.8">e</tspan><tspan dy="-0.8">=0.30</tspan></text>
<line x1="487.6" y1="315.6" x2="502.2" y2="315.6" stroke="#f0505a" stroke-width="1.5" stroke-dasharray="2.6 1.4"/>
<text x="503.4" y="317.9" font-size="7.4" fill="#444" textLength="24.3" lengthAdjust="spacingAndGlyphs"><tspan font-style="italic">λ</tspan><tspan font-style="italic" font-size="5.2" dy="0.8">e</tspan><tspan dy="-0.8">=0.35</tspan></text>
</svg></body></html>
